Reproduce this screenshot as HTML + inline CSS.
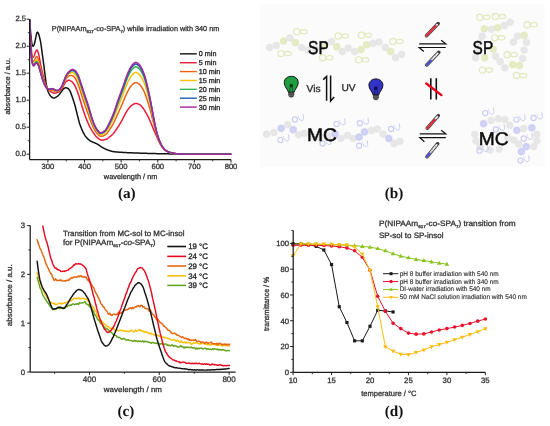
<!DOCTYPE html>
<html><head><meta charset="utf-8"><title>Figure</title>
<style>html,body{margin:0;padding:0;background:#fff;width:550px;height:426px;overflow:hidden}svg{display:block;text-rendering:geometricPrecision}</style>
</head><body>
<svg width="550" height="426" viewBox="0 0 550 426">
<defs><clipPath id="clipA"><rect x="29.6" y="19.3" width="202" height="140"/></clipPath><radialGradient id="gG"><stop offset="0" stop-color="#e9e9e9"/><stop offset="0.72" stop-color="#e5e5e5"/><stop offset="1" stop-color="#e5e5e5" stop-opacity="0.25"/></radialGradient><radialGradient id="gY"><stop offset="0" stop-color="#e7eecb"/><stop offset="0.72" stop-color="#e1eabd"/><stop offset="1" stop-color="#e1eabd" stop-opacity="0.25"/></radialGradient><radialGradient id="gL"><stop offset="0" stop-color="#d6d8f6"/><stop offset="0.72" stop-color="#caccf3"/><stop offset="1" stop-color="#caccf3" stop-opacity="0.25"/></radialGradient><clipPath id="clipC"><rect x="30.2" y="225.6" width="206" height="146.4"/></clipPath></defs>
<rect width="550" height="426" fill="#fff"/>
<g clip-path="url(#clipA)">
<polyline points="29.6,19.2 29.89,23.22 30.18,26.99 30.46,30.5 30.75,33.82 31.04,36.79 31.33,39.54 31.62,41.96 31.91,43.39 32.19,44.46 32.48,45.35 32.77,45.95 33.06,46.2 33.35,46.07 33.63,45.68 33.92,45.13 34.21,44.51 34.5,43.59 34.79,42.33 35.07,40.93 35.36,39.58 35.65,38.35 35.94,36.93 36.23,35.47 36.52,34.11 36.8,33 37.09,32.31 37.38,32.17 37.67,32.35 37.96,32.7 38.24,33.17 38.53,33.7 38.82,34.43 39.11,35.48 39.4,36.66 39.68,37.8 39.97,38.98 40.26,40.26 40.55,41.68 40.84,43.35 41.13,45.28 41.41,47.38 41.7,49.56 41.99,51.7 42.28,53.78 42.57,55.88 42.85,58 43.14,60.14 43.43,62.3 43.72,64.49 44.01,66.72 44.3,68.98 44.58,71.23 44.87,73.45 45.16,75.67 45.45,77.98 45.74,80.29 46.02,82.45 46.31,84.34 46.6,85.87 46.89,87.25 47.18,88.5 47.46,89.6 47.75,90.56 48.04,91.37 48.33,92.1 48.62,92.76 48.91,93.36 49.19,93.9 49.48,94.39 49.77,94.84 50.06,95.27 50.35,95.66 50.63,96.04 50.92,96.37 51.21,96.66 51.5,96.91 51.79,97.11 52.07,97.31 52.36,97.51 52.65,97.68 52.94,97.83 53.23,97.95 53.52,98.02 53.8,98.04 54.09,98.01 54.38,97.95 54.67,97.85 54.96,97.73 55.24,97.58 55.53,97.42 55.82,97.26 56.11,97.09 56.4,96.92 56.69,96.74 56.97,96.54 57.26,96.32 57.55,96.08 57.84,95.83 58.13,95.56 58.41,95.28 58.7,95 58.99,94.7 59.28,94.39 59.57,94.04 59.85,93.68 60.14,93.3 60.43,92.92 60.72,92.53 61.01,92.14 61.3,91.77 61.58,91.4 61.87,91.02 62.16,90.63 62.45,90.23 62.74,89.85 63.02,89.49 63.31,89.17 63.6,88.91 63.89,88.67 64.18,88.44 64.46,88.22 64.75,88.02 65.04,87.88 65.33,87.79 65.62,87.78 65.91,87.81 66.19,87.85 66.48,87.91 66.77,87.99 67.06,88.08 67.35,88.19 67.63,88.3 67.92,88.44 68.21,88.65 68.5,88.92 68.79,89.24 69.08,89.6 69.36,89.99 69.65,90.41 69.94,90.88 70.23,91.45 70.52,92.11 70.8,92.84 71.09,93.62 71.38,94.43 71.67,95.26 71.96,96.08 72.24,96.88 72.53,97.7 72.82,98.54 73.11,99.4 73.4,100.28 73.69,101.18 73.97,102.1 74.26,103.04 74.55,104.01 74.84,105 75.13,106.02 75.41,107.09 75.7,108.22 75.99,109.39 76.28,110.58 76.57,111.78 76.85,112.98 77.14,114.16 77.43,115.31 77.72,116.43 78.01,117.55 78.3,118.69 78.58,119.81 78.87,120.9 79.16,121.95 79.45,122.95 79.74,123.86 80.02,124.71 80.31,125.53 80.6,126.33 80.89,127.09 81.18,127.83 81.47,128.55 81.75,129.23 82.04,129.9 82.33,130.54 82.62,131.15 82.91,131.74 83.19,132.31 83.48,132.87 83.77,133.41 84.06,133.94 84.35,134.45 84.63,134.94 84.92,135.41 85.21,135.85 85.5,136.27 85.79,136.66 86.08,137.02 86.36,137.36 86.65,137.69 86.94,138.01 87.23,138.32 87.52,138.62 87.8,138.9 88.09,139.18 88.38,139.44 88.67,139.69 88.96,139.93 89.25,140.15 89.53,140.37 89.82,140.57 90.11,140.76 90.4,140.93 90.69,141.1 90.97,141.26 91.26,141.41 91.55,141.55 91.84,141.69 92.13,141.83 92.41,141.95 92.7,142.08 92.99,142.2 93.28,142.32 93.57,142.43 93.86,142.55 94.14,142.66 94.43,142.78 94.72,142.89 95.01,143.01 95.3,143.13 95.58,143.26 95.87,143.39 96.16,143.52 96.45,143.66 96.74,143.81 97.02,143.96 97.31,144.13 97.6,144.3 97.89,144.47 98.18,144.66 98.47,144.85 98.75,145.04 99.04,145.24 99.33,145.44 99.62,145.64 99.91,145.84 100.19,146.04 100.48,146.24 100.77,146.44 101.06,146.64 101.35,146.83 101.64,147.01 101.92,147.2 102.21,147.37 102.5,147.54 102.79,147.69 103.08,147.84 103.36,147.99 103.65,148.14 103.94,148.28 104.23,148.42 104.52,148.56 104.8,148.69 105.09,148.83 105.38,148.96 105.67,149.08 105.96,149.21 106.25,149.33 106.53,149.45 106.82,149.57 107.11,149.69 107.4,149.8 107.69,149.91 107.97,150.02 108.26,150.12 108.55,150.23 108.84,150.33 109.13,150.44 109.41,150.55 109.7,150.65 109.99,150.75 110.28,150.85 110.57,150.95 110.86,151.04 111.14,151.13 111.43,151.21 111.72,151.29 112.01,151.36 112.3,151.42 112.58,151.48 112.87,151.52 113.16,151.57 113.45,151.61 113.74,151.65 114.03,151.68 114.31,151.72 114.6,151.76 114.89,151.79 115.18,151.82 115.47,151.86 115.75,151.89 116.04,151.92 116.33,151.94 116.62,151.97 116.91,152 117.19,152.02 117.48,152.05 117.77,152.07 118.06,152.1 118.35,152.12 118.64,152.14 118.92,152.16 119.21,152.18 119.5,152.2 119.79,152.22 120.08,152.24 120.36,152.26 120.65,152.28 120.94,152.3 121.23,152.31 121.52,152.33 121.8,152.35 122.09,152.37 122.38,152.39 122.67,152.4 122.96,152.42 123.25,152.44 123.53,152.45 123.82,152.47 124.11,152.48 124.4,152.5 124.69,152.52 124.97,152.53 125.26,152.55 125.55,152.56 125.84,152.58 126.13,152.59 126.42,152.6 126.7,152.62 126.99,152.63 127.28,152.65 127.57,152.66 127.86,152.67 128.14,152.69 128.43,152.7 128.72,152.71 129.01,152.72 129.3,152.74 129.58,152.75 129.87,152.76 130.16,152.77 130.45,152.79 130.74,152.8 131.03,152.81 131.31,152.82 131.6,152.83 131.89,152.84 132.18,152.85 132.47,152.87 132.75,152.88 133.04,152.89 133.33,152.9 133.62,152.91 133.91,152.92 134.19,152.93 134.48,152.94 134.77,152.95 135.06,152.96 135.35,152.97 135.64,152.98 135.92,152.99 136.21,153 136.5,153.02 136.79,153.03 137.08,153.04 137.36,153.05 137.65,153.06 137.94,153.07 138.23,153.08 138.52,153.09 138.81,153.1 139.09,153.11 139.38,153.12 139.67,153.13 139.96,153.14 140.25,153.15 140.53,153.16 140.82,153.17 141.11,153.18 141.4,153.19 141.69,153.2 141.97,153.21 142.26,153.22 142.55,153.23 142.84,153.24 143.13,153.25 143.42,153.26 143.7,153.27 143.99,153.28 144.28,153.28 144.57,153.29 144.86,153.3 145.14,153.31 145.43,153.32 145.72,153.33 146.01,153.34 146.3,153.35 146.58,153.36 146.87,153.37 147.16,153.38 147.45,153.39 147.74,153.39 148.03,153.4 148.31,153.41 148.6,153.42 148.89,153.43 149.18,153.44 149.47,153.45 149.75,153.45 150.04,153.46 150.33,153.47 150.62,153.48 150.91,153.49 151.2,153.49 151.48,153.5 151.77,153.51 152.06,153.52 152.35,153.53 152.64,153.53 152.92,153.54 153.21,153.55 153.5,153.56 153.79,153.56 154.08,153.57 154.36,153.58 154.65,153.59 154.94,153.59 155.23,153.6 155.52,153.61 155.81,153.61 156.09,153.62 156.38,153.63 156.67,153.64 156.96,153.64 157.25,153.65 157.53,153.65 157.82,153.66 158.11,153.67 158.4,153.67 158.69,153.68 158.97,153.69 159.26,153.69 159.55,153.7 159.84,153.7 160.13,153.71 160.42,153.72 160.7,153.72 160.99,153.73 161.28,153.73 161.57,153.74 161.86,153.75 162.14,153.75 162.43,153.76 162.72,153.76 163.01,153.77 163.3,153.77 163.59,153.78 163.87,153.78 164.16,153.79 164.45,153.8 164.74,153.8 165.03,153.81 165.31,153.81 165.6,153.82 165.89,153.82 166.18,153.83 166.47,153.83 166.75,153.84 167.04,153.84 167.33,153.85 167.62,153.85 167.91,153.86 168.2,153.86 168.48,153.87 168.77,153.87 169.06,153.88 169.35,153.88 169.64,153.89 169.92,153.89 170.21,153.9 170.5,153.9 170.79,153.9 171.08,153.91 171.36,153.91 171.65,153.92 171.94,153.92 172.23,153.93 172.52,153.93 172.81,153.94 173.09,153.94 173.38,153.94 173.67,153.95 173.96,153.95 174.25,153.96 174.53,153.96 174.82,153.97 175.11,153.97 175.4,153.97 175.69,153.98 175.98,153.98 176.26,153.99 176.55,153.99 176.84,153.99 177.13,154 177.42,154 177.7,154.01 177.99,154.01 178.28,154.02 178.57,154.02 178.86,154.03 179.14,154.03 179.43,154.03 179.72,154.04 180.01,154.04 180.3,154.05 180.59,154.05 180.87,154.06 181.16,154.06 181.45,154.07 181.74,154.07 182.03,154.08 182.31,154.08 182.6,154.08 182.89,154.09 183.18,154.09 183.47,154.1 183.76,154.1 184.04,154.11 184.33,154.11 184.62,154.12 184.91,154.12 185.2,154.12 185.48,154.13 185.77,154.13 186.06,154.14 186.35,154.14 186.64,154.14 186.92,154.15 187.21,154.15 187.5,154.15 187.79,154.16 188.08,154.16 188.37,154.16 188.65,154.17 188.94,154.17 189.23,154.17 189.52,154.18 189.81,154.18 190.09,154.18 190.38,154.18 190.67,154.19 190.96,154.19 191.25,154.19 191.53,154.19 191.82,154.19 192.11,154.19 192.4,154.2 192.69,154.2 192.98,154.2 193.26,154.2 193.55,154.2 193.84,154.2 194.13,154.2 194.42,154.2 194.7,154.2 194.99,154.2 195.28,154.2 195.57,154.2 195.86,154.2 196.15,154.2 196.43,154.2 196.72,154.2 197.01,154.2 197.3,154.2 197.59,154.2 197.87,154.2 198.16,154.2 198.45,154.2 198.74,154.2 199.03,154.2 199.31,154.2 199.6,154.2 199.89,154.2 200.18,154.2 200.47,154.2 200.76,154.2 201.04,154.2 201.33,154.2 201.62,154.2 201.91,154.2 202.2,154.2 202.48,154.2 202.77,154.2 203.06,154.2 203.35,154.2 203.64,154.2 203.92,154.2 204.21,154.2 204.5,154.2 204.79,154.2 205.08,154.2 205.37,154.2 205.65,154.2 205.94,154.2 206.23,154.2 206.52,154.2 206.81,154.2 207.09,154.2 207.38,154.2 207.67,154.2 207.96,154.2 208.25,154.2 208.54,154.2 208.82,154.2 209.11,154.2 209.4,154.2 209.69,154.2 209.98,154.2 210.26,154.2 210.55,154.2 210.84,154.2 211.13,154.2 211.42,154.2 211.7,154.2 211.99,154.2 212.28,154.2 212.57,154.2 212.86,154.2 213.15,154.2 213.43,154.2 213.72,154.2 214.01,154.2 214.3,154.2 214.59,154.2 214.87,154.2 215.16,154.2 215.45,154.2 215.74,154.2 216.03,154.2 216.31,154.2 216.6,154.2 216.89,154.2 217.18,154.2 217.47,154.2 217.76,154.2 218.04,154.2 218.33,154.2 218.62,154.2 218.91,154.2 219.2,154.2 219.48,154.2 219.77,154.2 220.06,154.2 220.35,154.2 220.64,154.2 220.93,154.2 221.21,154.2 221.5,154.2 221.79,154.2 222.08,154.2 222.37,154.2 222.65,154.2 222.94,154.2 223.23,154.2 223.52,154.2 223.81,154.2 224.09,154.2 224.38,154.2 224.67,154.2 224.96,154.2 225.25,154.2 225.54,154.2 225.82,154.2 226.11,154.2 226.4,154.2 226.69,154.2 226.98,154.2 227.26,154.2 227.55,154.2 227.84,154.2 228.13,154.2 228.42,154.2 228.7,154.2 228.99,154.2 229.28,154.2 229.57,154.2 229.86,154.2 230.15,154.2 230.43,154.2 230.72,154.2 231.01,154.2" fill="none" stroke="#111111" stroke-width="1.5" stroke-linejoin="round" stroke-linecap="round" />
<polyline points="29.6,19.2 29.89,26.27 30.18,32.47 30.46,37.66 30.75,42.09 31.04,45.91 31.33,49.39 31.62,52.4 31.91,54.41 32.19,56.03 32.48,57.2 32.77,57.53 33.06,57.37 33.35,57.01 33.63,56.55 33.92,56.04 34.21,55.48 34.5,54.73 34.79,53.89 35.07,53.05 35.36,52.33 35.65,51.77 35.94,51.19 36.23,50.66 36.52,50.24 36.8,50 37.09,50.05 37.38,50.44 37.67,51.09 37.96,51.9 38.24,52.78 38.53,53.68 38.82,54.81 39.11,56.15 39.4,57.66 39.68,59.27 39.97,60.93 40.26,62.58 40.55,64.17 40.84,65.64 41.13,66.96 41.41,68.24 41.7,69.48 41.99,70.7 42.28,71.88 42.57,73.05 42.85,74.2 43.14,75.33 43.43,76.47 43.72,77.62 44.01,78.76 44.3,79.88 44.58,80.96 44.87,81.97 45.16,82.9 45.45,83.75 45.74,84.54 46.02,85.28 46.31,85.98 46.6,86.63 46.89,87.23 47.18,87.78 47.46,88.28 47.75,88.76 48.04,89.2 48.33,89.58 48.62,89.91 48.91,90.2 49.19,90.47 49.48,90.73 49.77,90.97 50.06,91.19 50.35,91.4 50.63,91.59 50.92,91.76 51.21,91.92 51.5,92.07 51.79,92.2 52.07,92.33 52.36,92.47 52.65,92.59 52.94,92.72 53.23,92.83 53.52,92.93 53.8,93.02 54.09,93.09 54.38,93.14 54.67,93.17 54.96,93.18 55.24,93.16 55.53,93.12 55.82,93.05 56.11,92.97 56.4,92.88 56.69,92.77 56.97,92.65 57.26,92.52 57.55,92.39 57.84,92.25 58.13,92.12 58.41,91.98 58.7,91.81 58.99,91.63 59.28,91.44 59.57,91.22 59.85,90.99 60.14,90.74 60.43,90.47 60.72,90.19 61.01,89.9 61.3,89.58 61.58,89.25 61.87,88.85 62.16,88.39 62.45,87.88 62.74,87.34 63.02,86.79 63.31,86.24 63.6,85.72 63.89,85.19 64.18,84.62 64.46,84.04 64.75,83.48 65.04,82.98 65.33,82.56 65.62,82.25 65.91,81.97 66.19,81.69 66.48,81.42 66.77,81.17 67.06,80.95 67.35,80.74 67.63,80.56 67.92,80.42 68.21,80.31 68.5,80.24 68.79,80.22 69.08,80.24 69.36,80.3 69.65,80.39 69.94,80.51 70.23,80.65 70.52,80.8 70.8,80.97 71.09,81.15 71.38,81.32 71.67,81.52 71.96,81.74 72.24,82 72.53,82.29 72.82,82.61 73.11,82.95 73.4,83.31 73.69,83.69 73.97,84.09 74.26,84.53 74.55,85.03 74.84,85.57 75.13,86.15 75.41,86.77 75.7,87.43 75.99,88.11 76.28,88.82 76.57,89.55 76.85,90.3 77.14,91.06 77.43,91.82 77.72,92.59 78.01,93.37 78.3,94.17 78.58,95.02 78.87,95.9 79.16,96.82 79.45,97.76 79.74,98.72 80.02,99.7 80.31,100.68 80.6,101.66 80.89,102.64 81.18,103.6 81.47,104.55 81.75,105.47 82.04,106.37 82.33,107.26 82.62,108.15 82.91,109.04 83.19,109.93 83.48,110.82 83.77,111.7 84.06,112.57 84.35,113.43 84.63,114.27 84.92,115.1 85.21,115.92 85.5,116.71 85.79,117.48 86.08,118.23 86.36,118.96 86.65,119.69 86.94,120.4 87.23,121.11 87.52,121.8 87.8,122.48 88.09,123.15 88.38,123.8 88.67,124.44 88.96,125.06 89.25,125.66 89.53,126.25 89.82,126.81 90.11,127.36 90.4,127.9 90.69,128.42 90.97,128.93 91.26,129.42 91.55,129.91 91.84,130.38 92.13,130.85 92.41,131.3 92.7,131.74 92.99,132.18 93.28,132.6 93.57,133.01 93.86,133.41 94.14,133.81 94.43,134.2 94.72,134.59 95.01,134.98 95.3,135.37 95.58,135.74 95.87,136.11 96.16,136.46 96.45,136.8 96.74,137.11 97.02,137.41 97.31,137.67 97.6,137.91 97.89,138.13 98.18,138.35 98.47,138.57 98.75,138.78 99.04,138.99 99.33,139.19 99.62,139.38 99.91,139.56 100.19,139.72 100.48,139.86 100.77,139.98 101.06,140.07 101.35,140.13 101.64,140.16 101.92,140.16 102.21,140.15 102.5,140.12 102.79,140.09 103.08,140.05 103.36,140 103.65,139.94 103.94,139.88 104.23,139.8 104.52,139.73 104.8,139.64 105.09,139.56 105.38,139.46 105.67,139.37 105.96,139.27 106.25,139.17 106.53,139.07 106.82,138.95 107.11,138.8 107.4,138.62 107.69,138.43 107.97,138.21 108.26,137.99 108.55,137.75 108.84,137.5 109.13,137.25 109.41,137 109.7,136.76 109.99,136.52 110.28,136.29 110.57,136.06 110.86,135.84 111.14,135.61 111.43,135.38 111.72,135.15 112.01,134.9 112.3,134.64 112.58,134.36 112.87,134.07 113.16,133.76 113.45,133.43 113.74,133.08 114.03,132.72 114.31,132.35 114.6,131.96 114.89,131.57 115.18,131.16 115.47,130.75 115.75,130.33 116.04,129.9 116.33,129.47 116.62,129.04 116.91,128.61 117.19,128.18 117.48,127.75 117.77,127.32 118.06,126.88 118.35,126.44 118.64,125.99 118.92,125.53 119.21,125.07 119.5,124.6 119.79,124.13 120.08,123.64 120.36,123.16 120.65,122.67 120.94,122.17 121.23,121.66 121.52,121.14 121.8,120.6 122.09,120.05 122.38,119.48 122.67,118.91 122.96,118.34 123.25,117.76 123.53,117.19 123.82,116.63 124.11,116.07 124.4,115.53 124.69,115 124.97,114.49 125.26,113.98 125.55,113.48 125.84,112.97 126.13,112.46 126.42,111.97 126.7,111.48 126.99,111.01 127.28,110.55 127.57,110.1 127.86,109.68 128.14,109.27 128.43,108.89 128.72,108.53 129.01,108.17 129.3,107.82 129.58,107.47 129.87,107.14 130.16,106.81 130.45,106.5 130.74,106.21 131.03,105.93 131.31,105.67 131.6,105.44 131.89,105.22 132.18,105.03 132.47,104.85 132.75,104.67 133.04,104.49 133.33,104.32 133.62,104.15 133.91,104 134.19,103.86 134.48,103.73 134.77,103.62 135.06,103.54 135.35,103.48 135.64,103.45 135.92,103.44 136.21,103.46 136.5,103.49 136.79,103.54 137.08,103.61 137.36,103.69 137.65,103.78 137.94,103.88 138.23,103.99 138.52,104.1 138.81,104.23 139.09,104.35 139.38,104.48 139.67,104.63 139.96,104.81 140.25,105.02 140.53,105.27 140.82,105.54 141.11,105.84 141.4,106.16 141.69,106.5 141.97,106.85 142.26,107.21 142.55,107.57 142.84,107.94 143.13,108.31 143.42,108.68 143.7,109.08 143.99,109.5 144.28,109.93 144.57,110.39 144.86,110.86 145.14,111.34 145.43,111.83 145.72,112.33 146.01,112.84 146.3,113.36 146.58,113.88 146.87,114.4 147.16,114.94 147.45,115.49 147.74,116.05 148.03,116.62 148.31,117.2 148.6,117.8 148.89,118.4 149.18,119.01 149.47,119.63 149.75,120.26 150.04,120.9 150.33,121.54 150.62,122.19 150.91,122.87 151.2,123.57 151.48,124.28 151.77,125 152.06,125.73 152.35,126.47 152.64,127.2 152.92,127.92 153.21,128.63 153.5,129.33 153.79,130.01 154.08,130.66 154.36,131.31 154.65,131.94 154.94,132.56 155.23,133.19 155.52,133.82 155.81,134.46 156.09,135.11 156.38,135.79 156.67,136.47 156.96,137.17 157.25,137.86 157.53,138.55 157.82,139.22 158.11,139.87 158.4,140.49 158.69,141.08 158.97,141.66 159.26,142.24 159.55,142.82 159.84,143.38 160.13,143.92 160.42,144.45 160.7,144.96 160.99,145.44 161.28,145.9 161.57,146.33 161.86,146.72 162.14,147.09 162.43,147.45 162.72,147.8 163.01,148.14 163.3,148.47 163.59,148.78 163.87,149.08 164.16,149.36 164.45,149.63 164.74,149.88 165.03,150.11 165.31,150.32 165.6,150.51 165.89,150.7 166.18,150.88 166.47,151.06 166.75,151.23 167.04,151.39 167.33,151.55 167.62,151.7 167.91,151.84 168.2,151.98 168.48,152.11 168.77,152.24 169.06,152.36 169.35,152.47 169.64,152.57 169.92,152.66 170.21,152.75 170.5,152.83 170.79,152.9 171.08,152.97 171.36,153.03 171.65,153.1 171.94,153.16 172.23,153.22 172.52,153.27 172.81,153.33 173.09,153.38 173.38,153.43 173.67,153.47 173.96,153.52 174.25,153.56 174.53,153.6 174.82,153.63 175.11,153.67 175.4,153.7 175.69,153.73 175.98,153.76 176.26,153.78 176.55,153.81 176.84,153.84 177.13,153.86 177.42,153.89 177.7,153.91 177.99,153.93 178.28,153.96 178.57,153.98 178.86,154 179.14,154.02 179.43,154.04 179.72,154.06 180.01,154.08 180.3,154.1 180.59,154.12 180.87,154.13 181.16,154.15 181.45,154.16 181.74,154.17 182.03,154.18 182.31,154.19 182.6,154.19 182.89,154.2 183.18,154.2 183.47,154.2 183.76,154.2 184.04,154.2 184.33,154.2 184.62,154.2 184.91,154.2 185.2,154.2 185.48,154.2 185.77,154.2 186.06,154.2 186.35,154.2 186.64,154.2 186.92,154.2 187.21,154.2 187.5,154.2 187.79,154.2 188.08,154.2 188.37,154.2 188.65,154.2 188.94,154.2 189.23,154.2 189.52,154.2 189.81,154.2 190.09,154.2 190.38,154.2 190.67,154.2 190.96,154.2 191.25,154.2 191.53,154.2 191.82,154.2 192.11,154.2 192.4,154.2 192.69,154.2 192.98,154.2 193.26,154.2 193.55,154.2 193.84,154.2 194.13,154.2 194.42,154.2 194.7,154.2 194.99,154.2 195.28,154.2 195.57,154.2 195.86,154.2 196.15,154.2 196.43,154.2 196.72,154.2 197.01,154.2 197.3,154.2 197.59,154.2 197.87,154.2 198.16,154.2 198.45,154.2 198.74,154.2 199.03,154.2 199.31,154.2 199.6,154.2 199.89,154.2 200.18,154.2 200.47,154.2 200.76,154.2 201.04,154.2 201.33,154.2 201.62,154.2 201.91,154.2 202.2,154.2 202.48,154.2 202.77,154.2 203.06,154.2 203.35,154.2 203.64,154.2 203.92,154.2 204.21,154.2 204.5,154.2 204.79,154.2 205.08,154.2 205.37,154.2 205.65,154.2 205.94,154.2 206.23,154.2 206.52,154.2 206.81,154.2 207.09,154.2 207.38,154.2 207.67,154.2 207.96,154.2 208.25,154.2 208.54,154.2 208.82,154.2 209.11,154.2 209.4,154.2 209.69,154.2 209.98,154.2 210.26,154.2 210.55,154.2 210.84,154.2 211.13,154.2 211.42,154.2 211.7,154.2 211.99,154.2 212.28,154.2 212.57,154.2 212.86,154.2 213.15,154.2 213.43,154.2 213.72,154.2 214.01,154.2 214.3,154.2 214.59,154.2 214.87,154.2 215.16,154.2 215.45,154.2 215.74,154.2 216.03,154.2 216.31,154.2 216.6,154.2 216.89,154.2 217.18,154.2 217.47,154.2 217.76,154.2 218.04,154.2 218.33,154.2 218.62,154.2 218.91,154.2 219.2,154.2 219.48,154.2 219.77,154.2 220.06,154.2 220.35,154.2 220.64,154.2 220.93,154.2 221.21,154.2 221.5,154.2 221.79,154.2 222.08,154.2 222.37,154.2 222.65,154.2 222.94,154.2 223.23,154.2 223.52,154.2 223.81,154.2 224.09,154.2 224.38,154.2 224.67,154.2 224.96,154.2 225.25,154.2 225.54,154.2 225.82,154.2 226.11,154.2 226.4,154.2 226.69,154.2 226.98,154.2 227.26,154.2 227.55,154.2 227.84,154.2 228.13,154.2 228.42,154.2 228.7,154.2 228.99,154.2 229.28,154.2 229.57,154.2 229.86,154.2 230.15,154.2 230.43,154.2 230.72,154.2 231.01,154.2" fill="none" stroke="#ea1c3a" stroke-width="1.5" stroke-linejoin="round" stroke-linecap="round" />
<polyline points="29.6,19.2 29.89,27.36 30.18,34.37 30.46,40.01 30.75,44.64 31.04,48.63 31.33,52.34 31.62,55.59 31.91,57.73 32.19,59.37 32.48,60.59 32.77,61.16 33.06,61.38 33.35,61.44 33.63,61.29 33.92,60.98 34.21,60.56 34.5,59.98 34.79,59.35 35.07,58.76 35.36,58.24 35.65,57.78 35.94,57.33 36.23,56.94 36.52,56.68 36.8,56.6 37.09,56.75 37.38,57.13 37.67,57.65 37.96,58.31 38.24,59.09 38.53,59.94 38.82,60.94 39.11,62.04 39.4,63.24 39.68,64.54 39.97,65.89 40.26,67.25 40.55,68.58 40.84,69.82 41.13,70.97 41.41,72.1 41.7,73.21 41.99,74.29 42.28,75.36 42.57,76.39 42.85,77.39 43.14,78.35 43.43,79.29 43.72,80.22 44.01,81.14 44.3,82.03 44.58,82.88 44.87,83.67 45.16,84.4 45.45,85.05 45.74,85.68 46.02,86.28 46.31,86.85 46.6,87.37 46.89,87.84 47.18,88.24 47.46,88.56 47.75,88.83 48.04,89.08 48.33,89.29 48.62,89.48 48.91,89.64 49.19,89.78 49.48,89.92 49.77,90.04 50.06,90.13 50.35,90.21 50.63,90.27 50.92,90.31 51.21,90.34 51.5,90.37 51.79,90.4 52.07,90.44 52.36,90.5 52.65,90.58 52.94,90.68 53.23,90.79 53.52,90.91 53.8,91.02 54.09,91.13 54.38,91.22 54.67,91.3 54.96,91.38 55.24,91.45 55.53,91.52 55.82,91.57 56.11,91.6 56.4,91.61 56.69,91.6 56.97,91.55 57.26,91.47 57.55,91.37 57.84,91.24 58.13,91.1 58.41,90.95 58.7,90.78 58.99,90.59 59.28,90.4 59.57,90.18 59.85,89.92 60.14,89.64 60.43,89.33 60.72,88.99 61.01,88.63 61.3,88.25 61.58,87.85 61.87,87.39 62.16,86.87 62.45,86.29 62.74,85.69 63.02,85.07 63.31,84.44 63.6,83.82 63.89,83.19 64.18,82.51 64.46,81.81 64.75,81.12 65.04,80.47 65.33,79.91 65.62,79.44 65.91,79.01 66.19,78.59 66.48,78.2 66.77,77.82 67.06,77.47 67.35,77.15 67.63,76.86 67.92,76.6 68.21,76.37 68.5,76.16 68.79,75.99 69.08,75.85 69.36,75.75 69.65,75.67 69.94,75.61 70.23,75.56 70.52,75.52 70.8,75.49 71.09,75.47 71.38,75.46 71.67,75.48 71.96,75.54 72.24,75.63 72.53,75.77 72.82,75.94 73.11,76.14 73.4,76.36 73.69,76.61 73.97,76.88 74.26,77.18 74.55,77.51 74.84,77.87 75.13,78.26 75.41,78.69 75.7,79.17 75.99,79.68 76.28,80.24 76.57,80.82 76.85,81.44 77.14,82.07 77.43,82.71 77.72,83.37 78.01,84.03 78.3,84.74 78.58,85.52 78.87,86.34 79.16,87.2 79.45,88.09 79.74,89 80.02,89.92 80.31,90.85 80.6,91.76 80.89,92.67 81.18,93.59 81.47,94.51 81.75,95.43 82.04,96.33 82.33,97.24 82.62,98.14 82.91,99.05 83.19,99.95 83.48,100.84 83.77,101.72 84.06,102.59 84.35,103.45 84.63,104.29 84.92,105.12 85.21,105.94 85.5,106.75 85.79,107.55 86.08,108.34 86.36,109.12 86.65,109.91 86.94,110.69 87.23,111.48 87.52,112.27 87.8,113.07 88.09,113.87 88.38,114.68 88.67,115.5 88.96,116.32 89.25,117.13 89.53,117.94 89.82,118.74 90.11,119.53 90.4,120.3 90.69,121.05 90.97,121.79 91.26,122.5 91.55,123.21 91.84,123.91 92.13,124.6 92.41,125.29 92.7,125.95 92.99,126.6 93.28,127.23 93.57,127.82 93.86,128.39 94.14,128.92 94.43,129.44 94.72,129.94 95.01,130.43 95.3,130.91 95.58,131.37 95.87,131.81 96.16,132.23 96.45,132.63 96.74,133.01 97.02,133.36 97.31,133.69 97.6,134.02 97.89,134.34 98.18,134.66 98.47,134.97 98.75,135.26 99.04,135.53 99.33,135.77 99.62,135.97 99.91,136.13 100.19,136.25 100.48,136.31 100.77,136.35 101.06,136.36 101.35,136.35 101.64,136.32 101.92,136.26 102.21,136.19 102.5,136.11 102.79,136.03 103.08,135.94 103.36,135.83 103.65,135.7 103.94,135.55 104.23,135.39 104.52,135.21 104.8,135.03 105.09,134.83 105.38,134.63 105.67,134.41 105.96,134.16 106.25,133.9 106.53,133.62 106.82,133.31 107.11,132.98 107.4,132.62 107.69,132.26 107.97,131.88 108.26,131.49 108.55,131.1 108.84,130.69 109.13,130.27 109.41,129.85 109.7,129.41 109.99,128.98 110.28,128.55 110.57,128.11 110.86,127.67 111.14,127.23 111.43,126.79 111.72,126.34 112.01,125.88 112.3,125.41 112.58,124.92 112.87,124.42 113.16,123.91 113.45,123.37 113.74,122.83 114.03,122.26 114.31,121.67 114.6,121.07 114.89,120.45 115.18,119.81 115.47,119.17 115.75,118.52 116.04,117.86 116.33,117.2 116.62,116.55 116.91,115.89 117.19,115.25 117.48,114.61 117.77,113.98 118.06,113.35 118.35,112.71 118.64,112.08 118.92,111.44 119.21,110.8 119.5,110.16 119.79,109.52 120.08,108.88 120.36,108.24 120.65,107.59 120.94,106.94 121.23,106.29 121.52,105.64 121.8,104.98 122.09,104.32 122.38,103.65 122.67,102.98 122.96,102.3 123.25,101.61 123.53,100.91 123.82,100.21 124.11,99.5 124.4,98.79 124.69,98.09 124.97,97.39 125.26,96.71 125.55,96.03 125.84,95.37 126.13,94.72 126.42,94.08 126.7,93.45 126.99,92.83 127.28,92.22 127.57,91.63 127.86,91.07 128.14,90.53 128.43,90.02 128.72,89.53 129.01,89.05 129.3,88.57 129.58,88.1 129.87,87.64 130.16,87.2 130.45,86.77 130.74,86.37 131.03,85.99 131.31,85.63 131.6,85.31 131.89,85.02 132.18,84.77 132.47,84.52 132.75,84.28 133.04,84.04 133.33,83.81 133.62,83.58 133.91,83.38 134.19,83.19 134.48,83.02 134.77,82.88 135.06,82.76 135.35,82.68 135.64,82.64 135.92,82.64 136.21,82.67 136.5,82.73 136.79,82.81 137.08,82.92 137.36,83.05 137.65,83.19 137.94,83.35 138.23,83.52 138.52,83.7 138.81,83.87 139.09,84.08 139.38,84.3 139.67,84.56 139.96,84.85 140.25,85.18 140.53,85.54 140.82,85.92 141.11,86.33 141.4,86.75 141.69,87.18 141.97,87.63 142.26,88.1 142.55,88.59 142.84,89.1 143.13,89.62 143.42,90.17 143.7,90.74 143.99,91.34 144.28,91.96 144.57,92.6 144.86,93.28 145.14,94 145.43,94.76 145.72,95.56 146.01,96.37 146.3,97.21 146.58,98.05 146.87,98.9 147.16,99.76 147.45,100.64 147.74,101.55 148.03,102.47 148.31,103.41 148.6,104.37 148.89,105.34 149.18,106.33 149.47,107.33 149.75,108.36 150.04,109.41 150.33,110.48 150.62,111.57 150.91,112.67 151.2,113.79 151.48,114.92 151.77,116.05 152.06,117.2 152.35,118.37 152.64,119.53 152.92,120.69 153.21,121.83 153.5,122.96 153.79,124.05 154.08,125.13 154.36,126.21 154.65,127.27 154.94,128.32 155.23,129.35 155.52,130.35 155.81,131.31 156.09,132.25 156.38,133.17 156.67,134.09 156.96,134.99 157.25,135.87 157.53,136.72 157.82,137.55 158.11,138.33 158.4,139.08 158.69,139.78 158.97,140.47 159.26,141.14 159.55,141.8 159.84,142.44 160.13,143.06 160.42,143.65 160.7,144.22 160.99,144.76 161.28,145.27 161.57,145.74 161.86,146.18 162.14,146.6 162.43,147 162.72,147.4 163.01,147.78 163.3,148.15 163.59,148.5 163.87,148.83 164.16,149.14 164.45,149.44 164.74,149.71 165.03,149.96 165.31,150.18 165.6,150.38 165.89,150.57 166.18,150.75 166.47,150.93 166.75,151.1 167.04,151.26 167.33,151.42 167.62,151.57 167.91,151.71 168.2,151.85 168.48,151.97 168.77,152.1 169.06,152.21 169.35,152.32 169.64,152.42 169.92,152.52 170.21,152.61 170.5,152.69 170.79,152.77 171.08,152.84 171.36,152.91 171.65,152.98 171.94,153.05 172.23,153.11 172.52,153.17 172.81,153.23 173.09,153.28 173.38,153.34 173.67,153.39 173.96,153.43 174.25,153.48 174.53,153.52 174.82,153.56 175.11,153.59 175.4,153.62 175.69,153.66 175.98,153.69 176.26,153.71 176.55,153.74 176.84,153.77 177.13,153.8 177.42,153.82 177.7,153.85 177.99,153.88 178.28,153.9 178.57,153.92 178.86,153.95 179.14,153.97 179.43,153.99 179.72,154.01 180.01,154.02 180.3,154.04 180.59,154.06 180.87,154.07 181.16,154.08 181.45,154.1 181.74,154.11 182.03,154.11 182.31,154.12 182.6,154.13 182.89,154.14 183.18,154.14 183.47,154.15 183.76,154.15 184.04,154.15 184.33,154.16 184.62,154.16 184.91,154.16 185.2,154.17 185.48,154.17 185.77,154.17 186.06,154.18 186.35,154.18 186.64,154.18 186.92,154.18 187.21,154.19 187.5,154.19 187.79,154.19 188.08,154.19 188.37,154.19 188.65,154.19 188.94,154.2 189.23,154.2 189.52,154.2 189.81,154.2 190.09,154.2 190.38,154.2 190.67,154.2 190.96,154.2 191.25,154.2 191.53,154.2 191.82,154.2 192.11,154.2 192.4,154.2 192.69,154.2 192.98,154.2 193.26,154.2 193.55,154.2 193.84,154.2 194.13,154.2 194.42,154.2 194.7,154.2 194.99,154.2 195.28,154.2 195.57,154.2 195.86,154.2 196.15,154.2 196.43,154.2 196.72,154.2 197.01,154.2 197.3,154.2 197.59,154.2 197.87,154.2 198.16,154.2 198.45,154.2 198.74,154.2 199.03,154.2 199.31,154.2 199.6,154.2 199.89,154.2 200.18,154.2 200.47,154.2 200.76,154.2 201.04,154.2 201.33,154.2 201.62,154.2 201.91,154.2 202.2,154.2 202.48,154.2 202.77,154.2 203.06,154.2 203.35,154.2 203.64,154.2 203.92,154.2 204.21,154.2 204.5,154.2 204.79,154.2 205.08,154.2 205.37,154.2 205.65,154.2 205.94,154.2 206.23,154.2 206.52,154.2 206.81,154.2 207.09,154.2 207.38,154.2 207.67,154.2 207.96,154.2 208.25,154.2 208.54,154.2 208.82,154.2 209.11,154.2 209.4,154.2 209.69,154.2 209.98,154.2 210.26,154.2 210.55,154.2 210.84,154.2 211.13,154.2 211.42,154.2 211.7,154.2 211.99,154.2 212.28,154.2 212.57,154.2 212.86,154.2 213.15,154.2 213.43,154.2 213.72,154.2 214.01,154.2 214.3,154.2 214.59,154.2 214.87,154.2 215.16,154.2 215.45,154.2 215.74,154.2 216.03,154.2 216.31,154.2 216.6,154.2 216.89,154.2 217.18,154.2 217.47,154.2 217.76,154.2 218.04,154.2 218.33,154.2 218.62,154.2 218.91,154.2 219.2,154.2 219.48,154.2 219.77,154.2 220.06,154.2 220.35,154.2 220.64,154.2 220.93,154.2 221.21,154.2 221.5,154.2 221.79,154.2 222.08,154.2 222.37,154.2 222.65,154.2 222.94,154.2 223.23,154.2 223.52,154.2 223.81,154.2 224.09,154.2 224.38,154.2 224.67,154.2 224.96,154.2 225.25,154.2 225.54,154.2 225.82,154.2 226.11,154.2 226.4,154.2 226.69,154.2 226.98,154.2 227.26,154.2 227.55,154.2 227.84,154.2 228.13,154.2 228.42,154.2 228.7,154.2 228.99,154.2 229.28,154.2 229.57,154.2 229.86,154.2 230.15,154.2 230.43,154.2 230.72,154.2 231.01,154.2" fill="none" stroke="#ec610f" stroke-width="1.5" stroke-linejoin="round" stroke-linecap="round" />
<polyline points="29.6,19.2 29.89,27.88 30.18,35.3 30.46,41.15 30.75,45.88 31.04,49.95 31.33,53.78 31.62,57.13 31.91,59.34 32.19,60.99 32.48,62.23 32.77,62.92 33.06,63.33 33.35,63.58 33.63,63.6 33.92,63.38 34.21,63.02 34.5,62.53 34.79,62 35.07,61.53 35.36,61.11 35.65,60.7 35.94,60.31 36.23,59.99 36.52,59.8 36.8,59.8 37.09,60 37.38,60.37 37.67,60.84 37.96,61.43 38.24,62.16 38.53,62.98 38.82,63.91 39.11,64.9 39.4,65.95 39.68,67.1 39.97,68.3 40.26,69.52 40.55,70.71 40.84,71.85 41.13,72.91 41.41,73.97 41.7,75.01 41.99,76.04 42.28,77.04 42.57,78.01 42.85,78.94 43.14,79.81 43.43,80.66 43.72,81.49 44.01,82.3 44.3,83.07 44.58,83.81 44.87,84.5 45.16,85.12 45.45,85.69 45.74,86.23 46.02,86.76 46.31,87.27 46.6,87.73 46.89,88.13 47.18,88.46 47.46,88.7 47.75,88.87 48.04,89.02 48.33,89.15 48.62,89.27 48.91,89.36 49.19,89.45 49.48,89.52 49.77,89.58 50.06,89.62 50.35,89.63 50.63,89.62 50.92,89.6 51.21,89.57 51.5,89.54 51.79,89.52 52.07,89.52 52.36,89.55 52.65,89.61 52.94,89.69 53.23,89.8 53.52,89.92 53.8,90.05 54.09,90.17 54.38,90.29 54.67,90.39 54.96,90.5 55.24,90.62 55.53,90.74 55.82,90.85 56.11,90.94 56.4,91 56.69,91.03 56.97,91.01 57.26,90.96 57.55,90.87 57.84,90.75 58.13,90.61 58.41,90.45 58.7,90.28 58.99,90.09 59.28,89.89 59.57,89.67 59.85,89.41 60.14,89.1 60.43,88.77 60.72,88.4 61.01,88.01 61.3,87.61 61.58,87.18 61.87,86.68 62.16,86.13 62.45,85.53 62.74,84.89 63.02,84.23 63.31,83.56 63.6,82.9 63.89,82.23 64.18,81.49 64.46,80.73 64.75,79.98 65.04,79.26 65.33,78.62 65.62,78.08 65.91,77.57 66.19,77.09 66.48,76.63 66.77,76.2 67.06,75.79 67.35,75.41 67.63,75.07 67.92,74.75 68.21,74.46 68.5,74.18 68.79,73.94 69.08,73.72 69.36,73.54 69.65,73.38 69.94,73.24 70.23,73.09 70.52,72.96 70.8,72.83 71.09,72.72 71.38,72.62 71.67,72.55 71.96,72.52 72.24,72.54 72.53,72.6 72.82,72.7 73.11,72.83 73.4,73 73.69,73.18 73.97,73.39 74.26,73.62 74.55,73.87 74.84,74.14 75.13,74.43 75.41,74.77 75.7,75.16 75.99,75.6 76.28,76.07 76.57,76.59 76.85,77.14 77.14,77.71 77.43,78.29 77.72,78.89 78.01,79.5 78.3,80.17 78.58,80.9 78.87,81.7 79.16,82.53 79.45,83.4 79.74,84.29 80.02,85.18 80.31,86.07 80.6,86.95 80.89,87.84 81.18,88.74 81.47,89.64 81.75,90.55 82.04,91.46 82.33,92.37 82.62,93.29 82.91,94.2 83.19,95.1 83.48,96 83.77,96.88 84.06,97.75 84.35,98.6 84.63,99.44 84.92,100.28 85.21,101.1 85.5,101.92 85.79,102.73 86.08,103.54 86.36,104.35 86.65,105.16 86.94,105.98 87.23,106.81 87.52,107.65 87.8,108.5 88.09,109.37 88.38,110.25 88.67,111.16 88.96,112.07 89.25,112.99 89.53,113.91 89.82,114.83 90.11,115.73 90.4,116.62 90.69,117.48 90.97,118.32 91.26,119.14 91.55,119.96 91.84,120.77 92.13,121.58 92.41,122.37 92.7,123.15 92.99,123.9 93.28,124.62 93.57,125.3 93.86,125.95 94.14,126.55 94.43,127.12 94.72,127.68 95.01,128.23 95.3,128.75 95.58,129.25 95.87,129.73 96.16,130.18 96.45,130.61 96.74,131.02 97.02,131.39 97.31,131.76 97.6,132.14 97.89,132.51 98.18,132.87 98.47,133.22 98.75,133.55 99.04,133.84 99.33,134.1 99.62,134.31 99.91,134.47 100.19,134.56 100.48,134.59 100.77,134.59 101.06,134.57 101.35,134.52 101.64,134.45 101.92,134.37 102.21,134.27 102.5,134.17 102.79,134.06 103.08,133.94 103.36,133.8 103.65,133.64 103.94,133.45 104.23,133.25 104.52,133.02 104.8,132.79 105.09,132.54 105.38,132.28 105.67,132 105.96,131.69 106.25,131.34 106.53,130.97 106.82,130.57 107.11,130.15 107.4,129.71 107.69,129.26 107.97,128.8 108.26,128.34 108.55,127.87 108.84,127.38 109.13,126.88 109.41,126.37 109.7,125.85 109.99,125.32 110.28,124.79 110.57,124.25 110.86,123.71 111.14,123.17 111.43,122.62 111.72,122.06 112.01,121.5 112.3,120.93 112.58,120.34 112.87,119.74 113.16,119.13 113.45,118.5 113.74,117.85 114.03,117.18 114.31,116.49 114.6,115.78 114.89,115.05 115.18,114.31 115.47,113.55 115.75,112.79 116.04,112.02 116.33,111.25 116.62,110.48 116.91,109.72 117.19,108.97 117.48,108.24 117.77,107.51 118.06,106.78 118.35,106.05 118.64,105.33 118.92,104.61 119.21,103.88 119.5,103.16 119.79,102.44 120.08,101.72 120.36,101 120.65,100.27 120.94,99.55 121.23,98.83 121.52,98.12 121.8,97.4 122.09,96.69 122.38,95.97 122.67,95.25 122.96,94.52 123.25,93.77 123.53,93.02 123.82,92.24 124.11,91.46 124.4,90.67 124.69,89.88 124.97,89.1 125.26,88.32 125.55,87.57 125.84,86.83 126.13,86.11 126.42,85.4 126.7,84.7 126.99,84 127.28,83.33 127.57,82.67 127.86,82.04 128.14,81.43 128.43,80.86 128.72,80.32 129.01,79.77 129.3,79.23 129.58,78.7 129.87,78.18 130.16,77.68 130.45,77.2 130.74,76.74 131.03,76.31 131.31,75.91 131.6,75.54 131.89,75.22 132.18,74.93 132.47,74.66 132.75,74.39 133.04,74.12 133.33,73.85 133.62,73.6 133.91,73.37 134.19,73.16 134.48,72.97 134.77,72.81 135.06,72.68 135.35,72.59 135.64,72.54 135.92,72.54 136.21,72.58 136.5,72.65 136.79,72.75 137.08,72.88 137.36,73.04 137.65,73.21 137.94,73.39 138.23,73.59 138.52,73.79 138.81,74 139.09,74.24 139.38,74.51 139.67,74.82 139.96,75.17 140.25,75.56 140.53,75.97 140.82,76.4 141.11,76.86 141.4,77.33 141.69,77.81 141.97,78.3 142.26,78.83 142.55,79.38 142.84,79.96 143.13,80.56 143.42,81.19 143.7,81.84 143.99,82.52 144.28,83.23 144.57,83.97 144.86,84.75 145.14,85.59 145.43,86.48 145.72,87.42 146.01,88.39 146.3,89.37 146.58,90.37 146.87,91.37 147.16,92.39 147.45,93.44 147.74,94.51 148.03,95.6 148.31,96.72 148.6,97.85 148.89,99 149.18,100.17 149.47,101.36 149.75,102.59 150.04,103.84 150.33,105.12 150.62,106.41 150.91,107.73 151.2,109.05 151.48,110.38 151.77,111.71 152.06,113.07 152.35,114.44 152.64,115.81 152.92,117.18 153.21,118.54 153.5,119.87 153.79,121.16 154.08,122.45 154.36,123.74 154.65,125.01 154.94,126.26 155.23,127.48 155.52,128.66 155.81,129.79 156.09,130.86 156.38,131.9 156.67,132.93 156.96,133.93 157.25,134.9 157.53,135.84 157.82,136.74 158.11,137.59 158.4,138.39 158.69,139.15 158.97,139.89 159.26,140.61 159.55,141.31 159.84,141.99 160.13,142.64 160.42,143.27 160.7,143.86 160.99,144.43 161.28,144.96 161.57,145.46 161.86,145.92 162.14,146.36 162.43,146.79 162.72,147.2 163.01,147.61 163.3,147.99 163.59,148.36 163.87,148.71 164.16,149.04 164.45,149.34 164.74,149.63 165.03,149.88 165.31,150.11 165.6,150.31 165.89,150.51 166.18,150.69 166.47,150.87 166.75,151.04 167.04,151.2 167.33,151.36 167.62,151.5 167.91,151.64 168.2,151.78 168.48,151.91 168.77,152.03 169.06,152.14 169.35,152.25 169.64,152.35 169.92,152.45 170.21,152.54 170.5,152.62 170.79,152.7 171.08,152.78 171.36,152.85 171.65,152.92 171.94,152.99 172.23,153.06 172.52,153.12 172.81,153.18 173.09,153.24 173.38,153.29 173.67,153.34 173.96,153.39 174.25,153.44 174.53,153.48 174.82,153.52 175.11,153.55 175.4,153.59 175.69,153.62 175.98,153.65 176.26,153.68 176.55,153.71 176.84,153.74 177.13,153.77 177.42,153.79 177.7,153.82 177.99,153.85 178.28,153.87 178.57,153.9 178.86,153.92 179.14,153.94 179.43,153.96 179.72,153.98 180.01,154 180.3,154.01 180.59,154.03 180.87,154.04 181.16,154.05 181.45,154.06 181.74,154.07 182.03,154.08 182.31,154.09 182.6,154.1 182.89,154.11 183.18,154.11 183.47,154.12 183.76,154.12 184.04,154.13 184.33,154.14 184.62,154.14 184.91,154.15 185.2,154.15 185.48,154.15 185.77,154.16 186.06,154.16 186.35,154.17 186.64,154.17 186.92,154.18 187.21,154.18 187.5,154.18 187.79,154.18 188.08,154.19 188.37,154.19 188.65,154.19 188.94,154.19 189.23,154.2 189.52,154.2 189.81,154.2 190.09,154.2 190.38,154.2 190.67,154.2 190.96,154.2 191.25,154.2 191.53,154.2 191.82,154.2 192.11,154.2 192.4,154.2 192.69,154.2 192.98,154.2 193.26,154.2 193.55,154.2 193.84,154.2 194.13,154.2 194.42,154.2 194.7,154.2 194.99,154.2 195.28,154.2 195.57,154.2 195.86,154.2 196.15,154.2 196.43,154.2 196.72,154.2 197.01,154.2 197.3,154.2 197.59,154.2 197.87,154.2 198.16,154.2 198.45,154.2 198.74,154.2 199.03,154.2 199.31,154.2 199.6,154.2 199.89,154.2 200.18,154.2 200.47,154.2 200.76,154.2 201.04,154.2 201.33,154.2 201.62,154.2 201.91,154.2 202.2,154.2 202.48,154.2 202.77,154.2 203.06,154.2 203.35,154.2 203.64,154.2 203.92,154.2 204.21,154.2 204.5,154.2 204.79,154.2 205.08,154.2 205.37,154.2 205.65,154.2 205.94,154.2 206.23,154.2 206.52,154.2 206.81,154.2 207.09,154.2 207.38,154.2 207.67,154.2 207.96,154.2 208.25,154.2 208.54,154.2 208.82,154.2 209.11,154.2 209.4,154.2 209.69,154.2 209.98,154.2 210.26,154.2 210.55,154.2 210.84,154.2 211.13,154.2 211.42,154.2 211.7,154.2 211.99,154.2 212.28,154.2 212.57,154.2 212.86,154.2 213.15,154.2 213.43,154.2 213.72,154.2 214.01,154.2 214.3,154.2 214.59,154.2 214.87,154.2 215.16,154.2 215.45,154.2 215.74,154.2 216.03,154.2 216.31,154.2 216.6,154.2 216.89,154.2 217.18,154.2 217.47,154.2 217.76,154.2 218.04,154.2 218.33,154.2 218.62,154.2 218.91,154.2 219.2,154.2 219.48,154.2 219.77,154.2 220.06,154.2 220.35,154.2 220.64,154.2 220.93,154.2 221.21,154.2 221.5,154.2 221.79,154.2 222.08,154.2 222.37,154.2 222.65,154.2 222.94,154.2 223.23,154.2 223.52,154.2 223.81,154.2 224.09,154.2 224.38,154.2 224.67,154.2 224.96,154.2 225.25,154.2 225.54,154.2 225.82,154.2 226.11,154.2 226.4,154.2 226.69,154.2 226.98,154.2 227.26,154.2 227.55,154.2 227.84,154.2 228.13,154.2 228.42,154.2 228.7,154.2 228.99,154.2 229.28,154.2 229.57,154.2 229.86,154.2 230.15,154.2 230.43,154.2 230.72,154.2 231.01,154.2" fill="none" stroke="#f9c10c" stroke-width="1.5" stroke-linejoin="round" stroke-linecap="round" />
<polyline points="29.6,19.2 29.89,28.18 30.18,35.82 30.46,41.8 30.75,46.59 31.04,50.7 31.33,54.59 31.62,58.01 31.91,60.26 32.19,61.92 32.48,63.17 32.77,63.92 33.06,64.44 33.35,64.81 33.63,64.91 33.92,64.75 34.21,64.42 34.5,63.98 34.79,63.51 35.07,63.1 35.36,62.74 35.65,62.37 35.94,62.01 36.23,61.73 36.52,61.58 36.8,61.63 37.09,61.86 37.38,62.22 37.67,62.65 37.96,63.2 38.24,63.9 38.53,64.71 38.82,65.6 39.11,66.52 39.4,67.49 39.68,68.55 39.97,69.67 40.26,70.8 40.55,71.93 40.84,73.01 41.13,74.02 41.41,75.03 41.7,76.04 41.99,77.04 42.28,78 42.57,78.93 42.85,79.82 43.14,80.65 43.43,81.43 43.72,82.21 44.01,82.95 44.3,83.67 44.58,84.34 44.87,84.97 45.16,85.54 45.45,86.05 45.74,86.55 46.02,87.04 46.31,87.51 46.6,87.93 46.89,88.3 47.18,88.59 47.46,88.78 47.75,88.89 48.04,88.99 48.33,89.07 48.62,89.15 48.91,89.21 49.19,89.26 49.48,89.3 49.77,89.33 50.06,89.33 50.35,89.3 50.63,89.26 50.92,89.2 51.21,89.14 51.5,89.07 51.79,89.03 52.07,89 52.36,89.01 52.65,89.05 52.94,89.13 53.23,89.24 53.52,89.36 53.8,89.5 54.09,89.63 54.38,89.76 54.67,89.87 54.96,90 55.24,90.15 55.53,90.3 55.82,90.44 56.11,90.56 56.4,90.65 56.69,90.71 56.97,90.71 57.26,90.67 57.55,90.59 57.84,90.47 58.13,90.33 58.41,90.17 58.7,89.99 58.99,89.8 59.28,89.61 59.57,89.38 59.85,89.11 60.14,88.8 60.43,88.45 60.72,88.07 61.01,87.66 61.3,87.24 61.58,86.79 61.87,86.28 62.16,85.71 62.45,85.09 62.74,84.43 63.02,83.75 63.31,83.06 63.6,82.38 63.89,81.67 64.18,80.91 64.46,80.11 64.75,79.32 65.04,78.57 65.33,77.89 65.62,77.3 65.91,76.75 66.19,76.23 66.48,75.74 66.77,75.27 67.06,74.83 67.35,74.42 67.63,74.05 67.92,73.7 68.21,73.37 68.5,73.06 68.79,72.77 69.08,72.51 69.36,72.28 69.65,72.07 69.94,71.88 70.23,71.69 70.52,71.5 70.8,71.32 71.09,71.15 71.38,71 71.67,70.89 71.96,70.81 72.24,70.78 72.53,70.8 72.82,70.86 73.11,70.95 73.4,71.08 73.69,71.23 73.97,71.4 74.26,71.59 74.55,71.79 74.84,72.01 75.13,72.25 75.41,72.53 75.7,72.88 75.99,73.27 76.28,73.7 76.57,74.18 76.85,74.69 77.14,75.22 77.43,75.78 77.72,76.35 78.01,76.93 78.3,77.57 78.58,78.28 78.87,79.05 79.16,79.87 79.45,80.73 79.74,81.6 80.02,82.48 80.31,83.36 80.6,84.22 80.89,85.09 81.18,85.98 81.47,86.87 81.75,87.78 82.04,88.69 82.33,89.61 82.62,90.52 82.91,91.44 83.19,92.34 83.48,93.24 83.77,94.12 84.06,94.99 84.35,95.84 84.63,96.69 84.92,97.52 85.21,98.35 85.5,99.17 85.79,99.99 86.08,100.81 86.36,101.63 86.65,102.46 86.94,103.3 87.23,104.15 87.52,105.02 87.8,105.9 88.09,106.8 88.38,107.74 88.67,108.69 88.96,109.66 89.25,110.64 89.53,111.62 89.82,112.6 90.11,113.57 90.4,114.52 90.69,115.45 90.97,116.35 91.26,117.23 91.55,118.1 91.84,118.98 92.13,119.85 92.41,120.71 92.7,121.55 92.99,122.36 93.28,123.13 93.57,123.87 93.86,124.56 94.14,125.2 94.43,125.81 94.72,126.4 95.01,126.97 95.3,127.52 95.58,128.04 95.87,128.54 96.16,129.02 96.45,129.46 96.74,129.88 97.02,130.27 97.31,130.66 97.6,131.06 97.89,131.46 98.18,131.85 98.47,132.22 98.75,132.57 99.04,132.89 99.33,133.15 99.62,133.37 99.91,133.52 100.19,133.6 100.48,133.61 100.77,133.59 101.06,133.55 101.35,133.48 101.64,133.39 101.92,133.29 102.21,133.18 102.5,133.06 102.79,132.94 103.08,132.81 103.36,132.65 103.65,132.46 103.94,132.26 104.23,132.03 104.52,131.78 104.8,131.51 105.09,131.24 105.38,130.95 105.67,130.63 105.96,130.28 106.25,129.89 106.53,129.46 106.82,129.02 107.11,128.55 107.4,128.06 107.69,127.56 107.97,127.05 108.26,126.54 108.55,126.03 108.84,125.5 109.13,124.96 109.41,124.4 109.7,123.82 109.99,123.24 110.28,122.65 110.57,122.05 110.86,121.46 111.14,120.85 111.43,120.25 111.72,119.63 112.01,119.01 112.3,118.38 112.58,117.73 112.87,117.08 113.16,116.41 113.45,115.72 113.74,115.02 114.03,114.3 114.31,113.55 114.6,112.77 114.89,111.98 115.18,111.17 115.47,110.35 115.75,109.53 116.04,108.69 116.33,107.86 116.62,107.03 116.91,106.21 117.19,105.4 117.48,104.61 117.77,103.82 118.06,103.04 118.35,102.26 118.64,101.49 118.92,100.71 119.21,99.94 119.5,99.17 119.79,98.41 120.08,97.64 120.36,96.88 120.65,96.11 120.94,95.35 121.23,94.59 121.52,93.83 121.8,93.09 122.09,92.34 122.38,91.6 122.67,90.85 122.96,90.09 123.25,89.31 123.53,88.52 123.82,87.71 124.11,86.88 124.4,86.04 124.69,85.21 124.97,84.37 125.26,83.55 125.55,82.75 125.84,81.97 126.13,81.22 126.42,80.46 126.7,79.72 126.99,78.98 127.28,78.27 127.57,77.57 127.86,76.9 128.14,76.26 128.43,75.65 128.72,75.07 129.01,74.49 129.3,73.92 129.58,73.35 129.87,72.8 130.16,72.27 130.45,71.75 130.74,71.26 131.03,70.8 131.31,70.38 131.6,69.99 131.89,69.64 132.18,69.33 132.47,69.04 132.75,68.75 133.04,68.47 133.33,68.19 133.62,67.92 133.91,67.68 134.19,67.45 134.48,67.25 134.77,67.08 135.06,66.95 135.35,66.85 135.64,66.8 135.92,66.8 136.21,66.84 136.5,66.91 136.79,67.03 137.08,67.17 137.36,67.34 137.65,67.52 137.94,67.73 138.23,67.94 138.52,68.16 138.81,68.38 139.09,68.64 139.38,68.94 139.67,69.28 139.96,69.66 140.25,70.08 140.53,70.52 140.82,70.99 141.11,71.47 141.4,71.97 141.69,72.47 141.97,73 142.26,73.55 142.55,74.14 142.84,74.76 143.13,75.4 143.42,76.07 143.7,76.78 143.99,77.51 144.28,78.27 144.57,79.06 144.86,79.9 145.14,80.81 145.43,81.77 145.72,82.79 146.01,83.84 146.3,84.91 146.58,86 146.87,87.09 147.16,88.2 147.45,89.34 147.74,90.51 148.03,91.69 148.31,92.91 148.6,94.14 148.89,95.4 149.18,96.67 149.47,97.97 149.75,99.3 150.04,100.67 150.33,102.06 150.62,103.48 150.91,104.91 151.2,106.35 151.48,107.79 151.77,109.24 152.06,110.71 152.35,112.2 152.64,113.69 152.92,115.18 153.21,116.66 153.5,118.11 153.79,119.52 154.08,120.92 154.36,122.33 154.65,123.72 154.94,125.09 155.23,126.42 155.52,127.7 155.81,128.92 156.09,130.06 156.38,131.18 156.67,132.27 156.96,133.33 157.25,134.35 157.53,135.33 157.82,136.27 158.11,137.16 158.4,138 158.69,138.79 158.97,139.56 159.26,140.3 159.55,141.03 159.84,141.73 160.13,142.4 160.42,143.04 160.7,143.66 160.99,144.24 161.28,144.79 161.57,145.3 161.86,145.77 162.14,146.22 162.43,146.66 162.72,147.09 163.01,147.5 163.3,147.9 163.59,148.28 163.87,148.64 164.16,148.98 164.45,149.29 164.74,149.58 165.03,149.84 165.31,150.07 165.6,150.28 165.89,150.47 166.18,150.66 166.47,150.83 166.75,151 167.04,151.17 167.33,151.32 167.62,151.47 167.91,151.61 168.2,151.74 168.48,151.87 168.77,151.99 169.06,152.1 169.35,152.21 169.64,152.31 169.92,152.41 170.21,152.5 170.5,152.58 170.79,152.67 171.08,152.74 171.36,152.82 171.65,152.89 171.94,152.96 172.23,153.03 172.52,153.09 172.81,153.16 173.09,153.21 173.38,153.27 173.67,153.32 173.96,153.37 174.25,153.41 174.53,153.46 174.82,153.49 175.11,153.53 175.4,153.56 175.69,153.6 175.98,153.63 176.26,153.66 176.55,153.69 176.84,153.72 177.13,153.75 177.42,153.78 177.7,153.8 177.99,153.83 178.28,153.86 178.57,153.88 178.86,153.9 179.14,153.92 179.43,153.94 179.72,153.96 180.01,153.98 180.3,154 180.59,154.01 180.87,154.03 181.16,154.04 181.45,154.05 181.74,154.06 182.03,154.07 182.31,154.07 182.6,154.08 182.89,154.09 183.18,154.1 183.47,154.1 183.76,154.11 184.04,154.12 184.33,154.12 184.62,154.13 184.91,154.14 185.2,154.14 185.48,154.15 185.77,154.15 186.06,154.16 186.35,154.16 186.64,154.17 186.92,154.17 187.21,154.17 187.5,154.18 187.79,154.18 188.08,154.19 188.37,154.19 188.65,154.19 188.94,154.19 189.23,154.2 189.52,154.2 189.81,154.2 190.09,154.2 190.38,154.2 190.67,154.2 190.96,154.2 191.25,154.2 191.53,154.2 191.82,154.2 192.11,154.2 192.4,154.2 192.69,154.2 192.98,154.2 193.26,154.2 193.55,154.2 193.84,154.2 194.13,154.2 194.42,154.2 194.7,154.2 194.99,154.2 195.28,154.2 195.57,154.2 195.86,154.2 196.15,154.2 196.43,154.2 196.72,154.2 197.01,154.2 197.3,154.2 197.59,154.2 197.87,154.2 198.16,154.2 198.45,154.2 198.74,154.2 199.03,154.2 199.31,154.2 199.6,154.2 199.89,154.2 200.18,154.2 200.47,154.2 200.76,154.2 201.04,154.2 201.33,154.2 201.62,154.2 201.91,154.2 202.2,154.2 202.48,154.2 202.77,154.2 203.06,154.2 203.35,154.2 203.64,154.2 203.92,154.2 204.21,154.2 204.5,154.2 204.79,154.2 205.08,154.2 205.37,154.2 205.65,154.2 205.94,154.2 206.23,154.2 206.52,154.2 206.81,154.2 207.09,154.2 207.38,154.2 207.67,154.2 207.96,154.2 208.25,154.2 208.54,154.2 208.82,154.2 209.11,154.2 209.4,154.2 209.69,154.2 209.98,154.2 210.26,154.2 210.55,154.2 210.84,154.2 211.13,154.2 211.42,154.2 211.7,154.2 211.99,154.2 212.28,154.2 212.57,154.2 212.86,154.2 213.15,154.2 213.43,154.2 213.72,154.2 214.01,154.2 214.3,154.2 214.59,154.2 214.87,154.2 215.16,154.2 215.45,154.2 215.74,154.2 216.03,154.2 216.31,154.2 216.6,154.2 216.89,154.2 217.18,154.2 217.47,154.2 217.76,154.2 218.04,154.2 218.33,154.2 218.62,154.2 218.91,154.2 219.2,154.2 219.48,154.2 219.77,154.2 220.06,154.2 220.35,154.2 220.64,154.2 220.93,154.2 221.21,154.2 221.5,154.2 221.79,154.2 222.08,154.2 222.37,154.2 222.65,154.2 222.94,154.2 223.23,154.2 223.52,154.2 223.81,154.2 224.09,154.2 224.38,154.2 224.67,154.2 224.96,154.2 225.25,154.2 225.54,154.2 225.82,154.2 226.11,154.2 226.4,154.2 226.69,154.2 226.98,154.2 227.26,154.2 227.55,154.2 227.84,154.2 228.13,154.2 228.42,154.2 228.7,154.2 228.99,154.2 229.28,154.2 229.57,154.2 229.86,154.2 230.15,154.2 230.43,154.2 230.72,154.2 231.01,154.2" fill="none" stroke="#33b257" stroke-width="1.5" stroke-linejoin="round" stroke-linecap="round" />
<polyline points="29.6,19.2 29.89,28.33 30.18,36.07 30.46,42.11 30.75,46.93 31.04,51.06 31.33,54.98 31.62,58.43 31.91,60.69 32.19,62.36 32.48,63.61 32.77,64.4 33.06,64.97 33.35,65.39 33.63,65.54 33.92,65.4 34.21,65.09 34.5,64.67 34.79,64.23 35.07,63.86 35.36,63.52 35.65,63.16 35.94,62.82 36.23,62.56 36.52,62.43 36.8,62.5 37.09,62.74 37.38,63.11 37.67,63.52 37.96,64.04 38.24,64.73 38.53,65.54 38.82,66.41 39.11,67.3 39.4,68.23 39.68,69.25 39.97,70.32 40.26,71.42 40.55,72.51 40.84,73.56 41.13,74.55 41.41,75.54 41.7,76.53 41.99,77.51 42.28,78.46 42.57,79.38 42.85,80.24 43.14,81.04 43.43,81.81 43.72,82.55 44.01,83.27 44.3,83.95 44.58,84.6 44.87,85.19 45.16,85.73 45.45,86.22 45.74,86.7 46.02,87.17 46.31,87.62 46.6,88.03 46.89,88.38 47.18,88.65 47.46,88.82 47.75,88.9 48.04,88.97 48.33,89.03 48.62,89.09 48.91,89.13 49.19,89.17 49.48,89.19 49.77,89.2 50.06,89.19 50.35,89.15 50.63,89.08 50.92,89.01 51.21,88.93 51.5,88.85 51.79,88.79 52.07,88.75 52.36,88.75 52.65,88.78 52.94,88.86 53.23,88.97 53.52,89.1 53.8,89.23 54.09,89.37 54.38,89.5 54.67,89.62 54.96,89.76 55.24,89.92 55.53,90.08 55.82,90.24 56.11,90.38 56.4,90.49 56.69,90.55 56.97,90.57 57.26,90.53 57.55,90.45 57.84,90.34 58.13,90.2 58.41,90.04 58.7,89.86 58.99,89.67 59.28,89.47 59.57,89.25 59.85,88.97 60.14,88.65 60.43,88.3 60.72,87.91 61.01,87.5 61.3,87.06 61.58,86.61 61.87,86.09 62.16,85.51 62.45,84.88 62.74,84.21 63.02,83.52 63.31,82.82 63.6,82.13 63.89,81.41 64.18,80.63 64.46,79.82 64.75,79.01 65.04,78.24 65.33,77.54 65.62,76.93 65.91,76.36 66.19,75.82 66.48,75.31 66.77,74.83 67.06,74.37 67.35,73.95 67.63,73.56 67.92,73.19 68.21,72.85 68.5,72.52 68.79,72.21 69.08,71.93 69.36,71.68 69.65,71.45 69.94,71.24 70.23,71.02 70.52,70.8 70.8,70.59 71.09,70.4 71.38,70.23 71.67,70.09 71.96,69.99 72.24,69.94 72.53,69.94 72.82,69.98 73.11,70.05 73.4,70.16 73.69,70.29 73.97,70.44 74.26,70.62 74.55,70.8 74.84,71 75.13,71.2 75.41,71.46 75.7,71.78 75.99,72.15 76.28,72.57 76.57,73.03 76.85,73.52 77.14,74.03 77.43,74.57 77.72,75.13 78.01,75.69 78.3,76.32 78.58,77.02 78.87,77.79 79.16,78.6 79.45,79.45 79.74,80.32 80.02,81.19 80.31,82.06 80.6,82.91 80.89,83.77 81.18,84.65 81.47,85.55 81.75,86.45 82.04,87.37 82.33,88.28 82.62,89.2 82.91,90.12 83.19,91.02 83.48,91.92 83.77,92.8 84.06,93.67 84.35,94.53 84.63,95.37 84.92,96.2 85.21,97.03 85.5,97.85 85.79,98.68 86.08,99.5 86.36,100.33 86.65,101.17 86.94,102.02 87.23,102.88 87.52,103.76 87.8,104.65 88.09,105.58 88.38,106.53 88.67,107.51 88.96,108.5 89.25,109.51 89.53,110.52 89.82,111.53 90.11,112.53 90.4,113.52 90.69,114.48 90.97,115.41 91.26,116.31 91.55,117.22 91.84,118.13 92.13,119.03 92.41,119.91 92.7,120.78 92.99,121.62 93.28,122.42 93.57,123.19 93.86,123.9 94.14,124.55 94.43,125.18 94.72,125.79 95.01,126.37 95.3,126.93 95.58,127.46 95.87,127.97 96.16,128.46 96.45,128.91 96.74,129.34 97.02,129.74 97.31,130.14 97.6,130.55 97.89,130.96 98.18,131.36 98.47,131.75 98.75,132.11 99.04,132.43 99.33,132.7 99.62,132.92 99.91,133.07 100.19,133.14 100.48,133.14 100.77,133.11 101.06,133.06 101.35,132.98 101.64,132.89 101.92,132.78 102.21,132.66 102.5,132.53 102.79,132.4 103.08,132.27 103.36,132.1 103.65,131.9 103.94,131.68 104.23,131.44 104.52,131.18 104.8,130.9 105.09,130.61 105.38,130.31 105.67,129.98 105.96,129.6 106.25,129.19 106.53,128.74 106.82,128.27 107.11,127.78 107.4,127.26 107.69,126.74 107.97,126.21 108.26,125.68 108.55,125.15 108.84,124.6 109.13,124.03 109.41,123.45 109.7,122.85 109.99,122.24 110.28,121.63 110.57,121 110.86,120.38 111.14,119.75 111.43,119.11 111.72,118.47 112.01,117.82 112.3,117.16 112.58,116.49 112.87,115.8 113.16,115.1 113.45,114.39 113.74,113.66 114.03,112.91 114.31,112.14 114.6,111.33 114.89,110.51 115.18,109.67 115.47,108.82 115.75,107.97 116.04,107.1 116.33,106.24 116.62,105.38 116.91,104.53 117.19,103.69 117.48,102.87 117.77,102.06 118.06,101.25 118.35,100.45 118.64,99.65 118.92,98.85 119.21,98.06 119.5,97.27 119.79,96.48 120.08,95.69 120.36,94.9 120.65,94.12 120.94,93.34 121.23,92.56 121.52,91.79 121.8,91.02 122.09,90.26 122.38,89.5 122.67,88.74 122.96,87.97 123.25,87.18 123.53,86.37 123.82,85.54 124.11,84.69 124.4,83.83 124.69,82.97 124.97,82.11 125.26,81.27 125.55,80.44 125.84,79.64 126.13,78.87 126.42,78.1 126.7,77.33 126.99,76.58 127.28,75.84 127.57,75.13 127.86,74.44 128.14,73.78 128.43,73.16 128.72,72.56 129.01,71.96 129.3,71.37 129.58,70.79 129.87,70.22 130.16,69.67 130.45,69.14 130.74,68.64 131.03,68.17 131.31,67.73 131.6,67.33 131.89,66.97 132.18,66.66 132.47,66.36 132.75,66.06 133.04,65.77 133.33,65.48 133.62,65.21 133.91,64.95 134.19,64.72 134.48,64.51 134.77,64.34 135.06,64.2 135.35,64.1 135.64,64.05 135.92,64.05 136.21,64.09 136.5,64.17 136.79,64.29 137.08,64.44 137.36,64.61 137.65,64.8 137.94,65.01 138.23,65.23 138.52,65.46 138.81,65.69 139.09,65.96 139.38,66.27 139.67,66.63 139.96,67.03 140.25,67.45 140.53,67.91 140.82,68.39 141.11,68.89 141.4,69.4 141.69,69.92 141.97,70.46 142.26,71.03 142.55,71.63 142.84,72.27 143.13,72.93 143.42,73.63 143.7,74.35 143.99,75.11 144.28,75.89 144.57,76.71 144.86,77.57 145.14,78.51 145.43,79.52 145.72,80.57 146.01,81.66 146.3,82.78 146.58,83.91 146.87,85.04 147.16,86.2 147.45,87.38 147.74,88.59 148.03,89.82 148.31,91.08 148.6,92.37 148.89,93.67 149.18,95 149.47,96.34 149.75,97.73 150.04,99.15 150.33,100.6 150.62,102.08 150.91,103.56 151.2,105.06 151.48,106.55 151.77,108.06 152.06,109.58 152.35,111.13 152.64,112.68 152.92,114.23 153.21,115.76 153.5,117.26 153.79,118.73 154.08,120.19 154.36,121.65 154.65,123.11 154.94,124.53 155.23,125.92 155.52,127.24 155.81,128.5 156.09,129.69 156.38,130.84 156.67,131.95 156.96,133.04 157.25,134.09 157.53,135.09 157.82,136.05 158.11,136.96 158.4,137.81 158.69,138.62 158.97,139.4 159.26,140.16 159.55,140.89 159.84,141.6 160.13,142.29 160.42,142.94 160.7,143.56 160.99,144.15 161.28,144.7 161.57,145.22 161.86,145.7 162.14,146.16 162.43,146.6 162.72,147.04 163.01,147.46 163.3,147.86 163.59,148.24 163.87,148.61 164.16,148.95 164.45,149.26 164.74,149.56 165.03,149.82 165.31,150.05 165.6,150.26 165.89,150.45 166.18,150.64 166.47,150.82 166.75,150.99 167.04,151.15 167.33,151.3 167.62,151.45 167.91,151.59 168.2,151.72 168.48,151.85 168.77,151.97 169.06,152.08 169.35,152.19 169.64,152.29 169.92,152.39 170.21,152.48 170.5,152.57 170.79,152.65 171.08,152.73 171.36,152.8 171.65,152.88 171.94,152.95 172.23,153.02 172.52,153.08 172.81,153.14 173.09,153.2 173.38,153.26 173.67,153.31 173.96,153.36 174.25,153.4 174.53,153.45 174.82,153.48 175.11,153.52 175.4,153.55 175.69,153.59 175.98,153.62 176.26,153.65 176.55,153.68 176.84,153.71 177.13,153.74 177.42,153.77 177.7,153.8 177.99,153.82 178.28,153.85 178.57,153.87 178.86,153.89 179.14,153.92 179.43,153.94 179.72,153.96 180.01,153.97 180.3,153.99 180.59,154 180.87,154.02 181.16,154.03 181.45,154.04 181.74,154.05 182.03,154.06 182.31,154.06 182.6,154.07 182.89,154.08 183.18,154.09 183.47,154.1 183.76,154.1 184.04,154.11 184.33,154.12 184.62,154.12 184.91,154.13 185.2,154.14 185.48,154.14 185.77,154.15 186.06,154.15 186.35,154.16 186.64,154.16 186.92,154.17 187.21,154.17 187.5,154.18 187.79,154.18 188.08,154.18 188.37,154.19 188.65,154.19 188.94,154.19 189.23,154.19 189.52,154.2 189.81,154.2 190.09,154.2 190.38,154.2 190.67,154.2 190.96,154.2 191.25,154.2 191.53,154.2 191.82,154.2 192.11,154.2 192.4,154.2 192.69,154.2 192.98,154.2 193.26,154.2 193.55,154.2 193.84,154.2 194.13,154.2 194.42,154.2 194.7,154.2 194.99,154.2 195.28,154.2 195.57,154.2 195.86,154.2 196.15,154.2 196.43,154.2 196.72,154.2 197.01,154.2 197.3,154.2 197.59,154.2 197.87,154.2 198.16,154.2 198.45,154.2 198.74,154.2 199.03,154.2 199.31,154.2 199.6,154.2 199.89,154.2 200.18,154.2 200.47,154.2 200.76,154.2 201.04,154.2 201.33,154.2 201.62,154.2 201.91,154.2 202.2,154.2 202.48,154.2 202.77,154.2 203.06,154.2 203.35,154.2 203.64,154.2 203.92,154.2 204.21,154.2 204.5,154.2 204.79,154.2 205.08,154.2 205.37,154.2 205.65,154.2 205.94,154.2 206.23,154.2 206.52,154.2 206.81,154.2 207.09,154.2 207.38,154.2 207.67,154.2 207.96,154.2 208.25,154.2 208.54,154.2 208.82,154.2 209.11,154.2 209.4,154.2 209.69,154.2 209.98,154.2 210.26,154.2 210.55,154.2 210.84,154.2 211.13,154.2 211.42,154.2 211.7,154.2 211.99,154.2 212.28,154.2 212.57,154.2 212.86,154.2 213.15,154.2 213.43,154.2 213.72,154.2 214.01,154.2 214.3,154.2 214.59,154.2 214.87,154.2 215.16,154.2 215.45,154.2 215.74,154.2 216.03,154.2 216.31,154.2 216.6,154.2 216.89,154.2 217.18,154.2 217.47,154.2 217.76,154.2 218.04,154.2 218.33,154.2 218.62,154.2 218.91,154.2 219.2,154.2 219.48,154.2 219.77,154.2 220.06,154.2 220.35,154.2 220.64,154.2 220.93,154.2 221.21,154.2 221.5,154.2 221.79,154.2 222.08,154.2 222.37,154.2 222.65,154.2 222.94,154.2 223.23,154.2 223.52,154.2 223.81,154.2 224.09,154.2 224.38,154.2 224.67,154.2 224.96,154.2 225.25,154.2 225.54,154.2 225.82,154.2 226.11,154.2 226.4,154.2 226.69,154.2 226.98,154.2 227.26,154.2 227.55,154.2 227.84,154.2 228.13,154.2 228.42,154.2 228.7,154.2 228.99,154.2 229.28,154.2 229.57,154.2 229.86,154.2 230.15,154.2 230.43,154.2 230.72,154.2 231.01,154.2" fill="none" stroke="#1a5cb2" stroke-width="1.5" stroke-linejoin="round" stroke-linecap="round" />
<polyline points="29.6,19.2 29.89,28.41 30.18,36.22 30.46,42.3 30.75,47.13 31.04,51.27 31.33,55.22 31.62,58.68 31.91,60.96 32.19,62.62 32.48,63.88 32.77,64.69 33.06,65.29 33.35,65.74 33.63,65.91 33.92,65.79 34.21,65.49 34.5,65.09 34.79,64.67 35.07,64.31 35.36,63.99 35.65,63.64 35.94,63.31 36.23,63.06 36.52,62.94 36.8,63.02 37.09,63.27 37.38,63.63 37.67,64.04 37.96,64.55 38.24,65.23 38.53,66.03 38.82,66.89 39.11,67.76 39.4,68.67 39.68,69.66 39.97,70.71 40.26,71.79 40.55,72.86 40.84,73.89 41.13,74.87 41.41,75.85 41.7,76.83 41.99,77.79 42.28,78.74 42.57,79.64 42.85,80.49 43.14,81.28 43.43,82.03 43.72,82.75 44.01,83.45 44.3,84.12 44.58,84.75 44.87,85.33 45.16,85.85 45.45,86.32 45.74,86.79 46.02,87.25 46.31,87.69 46.6,88.09 46.89,88.43 47.18,88.68 47.46,88.84 47.75,88.91 48.04,88.96 48.33,89.01 48.62,89.05 48.91,89.09 49.19,89.11 49.48,89.13 49.77,89.13 50.06,89.11 50.35,89.05 50.63,88.98 50.92,88.89 51.21,88.8 51.5,88.72 51.79,88.65 52.07,88.6 52.36,88.59 52.65,88.63 52.94,88.7 53.23,88.81 53.52,88.94 53.8,89.08 54.09,89.22 54.38,89.35 54.67,89.47 54.96,89.62 55.24,89.79 55.53,89.96 55.82,90.12 56.11,90.27 56.4,90.39 56.69,90.46 56.97,90.48 57.26,90.45 57.55,90.37 57.84,90.26 58.13,90.12 58.41,89.95 58.7,89.77 58.99,89.58 59.28,89.39 59.57,89.16 59.85,88.89 60.14,88.57 60.43,88.21 60.72,87.82 61.01,87.4 61.3,86.96 61.58,86.5 61.87,85.97 62.16,85.39 62.45,84.75 62.74,84.08 63.02,83.39 63.31,82.68 63.6,81.98 63.89,81.25 64.18,80.46 64.46,79.64 64.75,78.83 65.04,78.04 65.33,77.33 65.62,76.71 65.91,76.13 66.19,75.58 66.48,75.06 66.77,74.56 67.06,74.1 67.35,73.67 67.63,73.27 67.92,72.89 68.21,72.54 68.5,72.2 68.79,71.88 69.08,71.59 69.36,71.32 69.65,71.08 69.94,70.85 70.23,70.62 70.52,70.38 70.8,70.16 71.09,69.95 71.38,69.77 71.67,69.61 71.96,69.5 72.24,69.43 72.53,69.42 72.82,69.45 73.11,69.52 73.4,69.61 73.69,69.73 73.97,69.88 74.26,70.04 74.55,70.21 74.84,70.39 75.13,70.58 75.41,70.83 75.7,71.13 75.99,71.49 76.28,71.89 76.57,72.34 76.85,72.82 77.14,73.33 77.43,73.85 77.72,74.4 78.01,74.96 78.3,75.58 78.58,76.27 78.87,77.04 79.16,77.84 79.45,78.69 79.74,79.55 80.02,80.42 80.31,81.28 80.6,82.13 80.89,82.99 81.18,83.86 81.47,84.76 81.75,85.66 82.04,86.57 82.33,87.49 82.62,88.41 82.91,89.33 83.19,90.24 83.48,91.13 83.77,92.02 84.06,92.88 84.35,93.74 84.63,94.58 84.92,95.41 85.21,96.24 85.5,97.07 85.79,97.89 86.08,98.72 86.36,99.56 86.65,100.4 86.94,101.25 87.23,102.12 87.52,103.01 87.8,103.91 88.09,104.85 88.38,105.81 88.67,106.8 88.96,107.82 89.25,108.84 89.53,109.87 89.82,110.89 90.11,111.91 90.4,112.92 90.69,113.9 90.97,114.85 91.26,115.77 91.55,116.69 91.84,117.61 92.13,118.53 92.41,119.44 92.7,120.32 92.99,121.18 93.28,122 93.57,122.78 93.86,123.5 94.14,124.17 94.43,124.8 94.72,125.42 95.01,126.01 95.3,126.58 95.58,127.12 95.87,127.64 96.16,128.12 96.45,128.59 96.74,129.02 97.02,129.42 97.31,129.82 97.6,130.24 97.89,130.66 98.18,131.07 98.47,131.46 98.75,131.83 99.04,132.15 99.33,132.43 99.62,132.65 99.91,132.8 100.19,132.87 100.48,132.86 100.77,132.83 101.06,132.77 101.35,132.68 101.64,132.58 101.92,132.47 102.21,132.35 102.5,132.22 102.79,132.08 103.08,131.94 103.36,131.77 103.65,131.57 103.94,131.34 104.23,131.09 104.52,130.83 104.8,130.54 105.09,130.24 105.38,129.92 105.67,129.58 105.96,129.2 106.25,128.77 106.53,128.31 106.82,127.83 107.11,127.32 107.4,126.79 107.69,126.25 107.97,125.71 108.26,125.17 108.55,124.63 108.84,124.07 109.13,123.48 109.41,122.88 109.7,122.27 109.99,121.65 110.28,121.01 110.57,120.38 110.86,119.73 111.14,119.08 111.43,118.43 111.72,117.77 112.01,117.11 112.3,116.43 112.58,115.74 112.87,115.04 113.16,114.33 113.45,113.6 113.74,112.85 114.03,112.09 114.31,111.29 114.6,110.48 114.89,109.64 115.18,108.78 115.47,107.91 115.75,107.03 116.04,106.15 116.33,105.27 116.62,104.4 116.91,103.53 117.19,102.67 117.48,101.84 117.77,101.01 118.06,100.19 118.35,99.37 118.64,98.55 118.92,97.74 119.21,96.93 119.5,96.13 119.79,95.32 120.08,94.52 120.36,93.73 120.65,92.93 120.94,92.14 121.23,91.34 121.52,90.56 121.8,89.79 122.09,89.02 122.38,88.26 122.67,87.48 122.96,86.7 123.25,85.91 123.53,85.09 123.82,84.25 124.11,83.38 124.4,82.51 124.69,81.64 124.97,80.76 125.26,79.91 125.55,79.07 125.84,78.26 126.13,77.47 126.42,76.69 126.7,75.91 126.99,75.15 127.28,74.4 127.57,73.67 127.86,72.97 128.14,72.3 128.43,71.67 128.72,71.06 129.01,70.46 129.3,69.85 129.58,69.26 129.87,68.69 130.16,68.13 130.45,67.59 130.74,67.08 131.03,66.59 131.31,66.15 131.6,65.74 131.89,65.37 132.18,65.06 132.47,64.75 132.75,64.45 133.04,64.15 133.33,63.86 133.62,63.58 133.91,63.32 134.19,63.09 134.48,62.88 134.77,62.7 135.06,62.56 135.35,62.46 135.64,62.41 135.92,62.4 136.21,62.45 136.5,62.53 136.79,62.65 137.08,62.8 137.36,62.98 137.65,63.18 137.94,63.39 138.23,63.62 138.52,63.85 138.81,64.08 139.09,64.36 139.38,64.68 139.67,65.05 139.96,65.45 140.25,65.89 140.53,66.36 140.82,66.84 141.11,67.35 141.4,67.87 141.69,68.39 141.97,68.94 142.26,69.52 142.55,70.13 142.84,70.78 143.13,71.46 143.42,72.17 143.7,72.91 143.99,73.68 144.28,74.48 144.57,75.3 144.86,76.19 145.14,77.15 145.43,78.17 145.72,79.25 146.01,80.36 146.3,81.5 146.58,82.66 146.87,83.82 147.16,85 147.45,86.21 147.74,87.45 148.03,88.71 148.31,90 148.6,91.31 148.89,92.64 149.18,94 149.47,95.37 149.75,96.79 150.04,98.24 150.33,99.73 150.62,101.24 150.91,102.76 151.2,104.29 151.48,105.82 151.77,107.35 152.06,108.91 152.35,110.49 152.64,112.08 152.92,113.66 153.21,115.22 153.5,116.76 153.79,118.26 154.08,119.75 154.36,121.25 154.65,122.74 154.94,124.2 155.23,125.61 155.52,126.97 155.81,128.25 156.09,129.46 156.38,130.63 156.67,131.77 156.96,132.87 157.25,133.93 157.53,134.95 157.82,135.92 158.11,136.84 158.4,137.7 158.69,138.52 158.97,139.31 159.26,140.07 159.55,140.81 159.84,141.53 160.13,142.22 160.42,142.88 160.7,143.5 160.99,144.09 161.28,144.65 161.57,145.17 161.86,145.65 162.14,146.12 162.43,146.57 162.72,147.01 163.01,147.43 163.3,147.83 163.59,148.22 163.87,148.59 164.16,148.93 164.45,149.25 164.74,149.54 165.03,149.81 165.31,150.04 165.6,150.25 165.89,150.44 166.18,150.63 166.47,150.81 166.75,150.98 167.04,151.14 167.33,151.29 167.62,151.44 167.91,151.58 168.2,151.71 168.48,151.84 168.77,151.96 169.06,152.07 169.35,152.18 169.64,152.28 169.92,152.38 170.21,152.47 170.5,152.55 170.79,152.64 171.08,152.72 171.36,152.79 171.65,152.87 171.94,152.94 172.23,153.01 172.52,153.07 172.81,153.13 173.09,153.19 173.38,153.25 173.67,153.3 173.96,153.35 174.25,153.4 174.53,153.44 174.82,153.48 175.11,153.51 175.4,153.55 175.69,153.58 175.98,153.61 176.26,153.65 176.55,153.68 176.84,153.71 177.13,153.74 177.42,153.76 177.7,153.79 177.99,153.82 178.28,153.84 178.57,153.87 178.86,153.89 179.14,153.91 179.43,153.93 179.72,153.95 180.01,153.97 180.3,153.98 180.59,154 180.87,154.01 181.16,154.02 181.45,154.03 181.74,154.04 182.03,154.05 182.31,154.06 182.6,154.07 182.89,154.08 183.18,154.08 183.47,154.09 183.76,154.1 184.04,154.11 184.33,154.11 184.62,154.12 184.91,154.13 185.2,154.13 185.48,154.14 185.77,154.15 186.06,154.15 186.35,154.16 186.64,154.16 186.92,154.17 187.21,154.17 187.5,154.18 187.79,154.18 188.08,154.18 188.37,154.19 188.65,154.19 188.94,154.19 189.23,154.19 189.52,154.2 189.81,154.2 190.09,154.2 190.38,154.2 190.67,154.2 190.96,154.2 191.25,154.2 191.53,154.2 191.82,154.2 192.11,154.2 192.4,154.2 192.69,154.2 192.98,154.2 193.26,154.2 193.55,154.2 193.84,154.2 194.13,154.2 194.42,154.2 194.7,154.2 194.99,154.2 195.28,154.2 195.57,154.2 195.86,154.2 196.15,154.2 196.43,154.2 196.72,154.2 197.01,154.2 197.3,154.2 197.59,154.2 197.87,154.2 198.16,154.2 198.45,154.2 198.74,154.2 199.03,154.2 199.31,154.2 199.6,154.2 199.89,154.2 200.18,154.2 200.47,154.2 200.76,154.2 201.04,154.2 201.33,154.2 201.62,154.2 201.91,154.2 202.2,154.2 202.48,154.2 202.77,154.2 203.06,154.2 203.35,154.2 203.64,154.2 203.92,154.2 204.21,154.2 204.5,154.2 204.79,154.2 205.08,154.2 205.37,154.2 205.65,154.2 205.94,154.2 206.23,154.2 206.52,154.2 206.81,154.2 207.09,154.2 207.38,154.2 207.67,154.2 207.96,154.2 208.25,154.2 208.54,154.2 208.82,154.2 209.11,154.2 209.4,154.2 209.69,154.2 209.98,154.2 210.26,154.2 210.55,154.2 210.84,154.2 211.13,154.2 211.42,154.2 211.7,154.2 211.99,154.2 212.28,154.2 212.57,154.2 212.86,154.2 213.15,154.2 213.43,154.2 213.72,154.2 214.01,154.2 214.3,154.2 214.59,154.2 214.87,154.2 215.16,154.2 215.45,154.2 215.74,154.2 216.03,154.2 216.31,154.2 216.6,154.2 216.89,154.2 217.18,154.2 217.47,154.2 217.76,154.2 218.04,154.2 218.33,154.2 218.62,154.2 218.91,154.2 219.2,154.2 219.48,154.2 219.77,154.2 220.06,154.2 220.35,154.2 220.64,154.2 220.93,154.2 221.21,154.2 221.5,154.2 221.79,154.2 222.08,154.2 222.37,154.2 222.65,154.2 222.94,154.2 223.23,154.2 223.52,154.2 223.81,154.2 224.09,154.2 224.38,154.2 224.67,154.2 224.96,154.2 225.25,154.2 225.54,154.2 225.82,154.2 226.11,154.2 226.4,154.2 226.69,154.2 226.98,154.2 227.26,154.2 227.55,154.2 227.84,154.2 228.13,154.2 228.42,154.2 228.7,154.2 228.99,154.2 229.28,154.2 229.57,154.2 229.86,154.2 230.15,154.2 230.43,154.2 230.72,154.2 231.01,154.2" fill="none" stroke="#a8259e" stroke-width="1.5" stroke-linejoin="round" stroke-linecap="round" />
</g>
<line x1="29.6" y1="19.3" x2="29.6" y2="159.6" stroke="#1a1a1a" stroke-width="1.25"/>
<line x1="29.6" y1="159.6" x2="231.01" y2="159.6" stroke="#1a1a1a" stroke-width="1.25"/>
<line x1="26.7" y1="154.2" x2="29.6" y2="154.2" stroke="#222" stroke-width="1.0"/>
<text x="26" y="156.4" font-size="7.6" text-anchor="end" fill="#333" font-family="'Liberation Sans', Arial, sans-serif" stroke="#333" stroke-width="0.3" >0.0</text>
<line x1="26.7" y1="127.2" x2="29.6" y2="127.2" stroke="#222" stroke-width="1.0"/>
<text x="26" y="129.4" font-size="7.6" text-anchor="end" fill="#333" font-family="'Liberation Sans', Arial, sans-serif" stroke="#333" stroke-width="0.3" >0.5</text>
<line x1="26.7" y1="100.2" x2="29.6" y2="100.2" stroke="#222" stroke-width="1.0"/>
<text x="26" y="102.4" font-size="7.6" text-anchor="end" fill="#333" font-family="'Liberation Sans', Arial, sans-serif" stroke="#333" stroke-width="0.3" >1.0</text>
<line x1="26.7" y1="73.2" x2="29.6" y2="73.2" stroke="#222" stroke-width="1.0"/>
<text x="26" y="75.4" font-size="7.6" text-anchor="end" fill="#333" font-family="'Liberation Sans', Arial, sans-serif" stroke="#333" stroke-width="0.3" >1.5</text>
<line x1="26.7" y1="46.2" x2="29.6" y2="46.2" stroke="#222" stroke-width="1.0"/>
<text x="26" y="48.4" font-size="7.6" text-anchor="end" fill="#333" font-family="'Liberation Sans', Arial, sans-serif" stroke="#333" stroke-width="0.3" >2.0</text>
<line x1="26.7" y1="19.2" x2="29.6" y2="19.2" stroke="#222" stroke-width="1.0"/>
<text x="26" y="21.4" font-size="7.6" text-anchor="end" fill="#333" font-family="'Liberation Sans', Arial, sans-serif" stroke="#333" stroke-width="0.3" >2.5</text>
<line x1="27.8" y1="140.7" x2="29.6" y2="140.7" stroke="#222" stroke-width="0.9"/>
<line x1="27.8" y1="113.7" x2="29.6" y2="113.7" stroke="#222" stroke-width="0.9"/>
<line x1="27.8" y1="86.7" x2="29.6" y2="86.7" stroke="#222" stroke-width="0.9"/>
<line x1="27.8" y1="59.7" x2="29.6" y2="59.7" stroke="#222" stroke-width="0.9"/>
<line x1="27.8" y1="32.7" x2="29.6" y2="32.7" stroke="#222" stroke-width="0.9"/>
<line x1="47.91" y1="159.6" x2="47.91" y2="162.5" stroke="#222" stroke-width="1.0"/>
<text x="47.91" y="169" font-size="7.6" text-anchor="middle" fill="#333" font-family="'Liberation Sans', Arial, sans-serif" stroke="#333" stroke-width="0.3" >300</text>
<line x1="84.53" y1="159.6" x2="84.53" y2="162.5" stroke="#222" stroke-width="1.0"/>
<text x="84.53" y="169" font-size="7.6" text-anchor="middle" fill="#333" font-family="'Liberation Sans', Arial, sans-serif" stroke="#333" stroke-width="0.3" >400</text>
<line x1="121.15" y1="159.6" x2="121.15" y2="162.5" stroke="#222" stroke-width="1.0"/>
<text x="121.15" y="169" font-size="7.6" text-anchor="middle" fill="#333" font-family="'Liberation Sans', Arial, sans-serif" stroke="#333" stroke-width="0.3" >500</text>
<line x1="157.77" y1="159.6" x2="157.77" y2="162.5" stroke="#222" stroke-width="1.0"/>
<text x="157.77" y="169" font-size="7.6" text-anchor="middle" fill="#333" font-family="'Liberation Sans', Arial, sans-serif" stroke="#333" stroke-width="0.3" >600</text>
<line x1="194.39" y1="159.6" x2="194.39" y2="162.5" stroke="#222" stroke-width="1.0"/>
<text x="194.39" y="169" font-size="7.6" text-anchor="middle" fill="#333" font-family="'Liberation Sans', Arial, sans-serif" stroke="#333" stroke-width="0.3" >700</text>
<line x1="231.01" y1="159.6" x2="231.01" y2="162.5" stroke="#222" stroke-width="1.0"/>
<text x="231.01" y="169" font-size="7.6" text-anchor="middle" fill="#333" font-family="'Liberation Sans', Arial, sans-serif" stroke="#333" stroke-width="0.3" >800</text>
<line x1="66.22" y1="159.6" x2="66.22" y2="161.4" stroke="#222" stroke-width="0.9"/>
<line x1="102.84" y1="159.6" x2="102.84" y2="161.4" stroke="#222" stroke-width="0.9"/>
<line x1="139.46" y1="159.6" x2="139.46" y2="161.4" stroke="#222" stroke-width="0.9"/>
<line x1="176.08" y1="159.6" x2="176.08" y2="161.4" stroke="#222" stroke-width="0.9"/>
<line x1="212.7" y1="159.6" x2="212.7" y2="161.4" stroke="#222" stroke-width="0.9"/>
<text x="130.6" y="178.6" font-size="7.3" text-anchor="middle" fill="#333" font-family="'Liberation Sans', Arial, sans-serif" stroke="#333" stroke-width="0.3" textLength="53.5" lengthAdjust="spacingAndGlyphs">wavelength / nm</text>
<text x="10.4" y="86.3" font-size="7.4" text-anchor="middle" fill="#333" font-family="'Liberation Sans', Arial, sans-serif" stroke="#333" stroke-width="0.3" transform="rotate(-90 10.4 86.3)" textLength="56.5" lengthAdjust="spacingAndGlyphs">absorbance / a.u.</text>
<text x="51.8" y="30.7" font-size="7.2" fill="#333" stroke="#333" stroke-width="0.3" font-family="'Liberation Sans', Arial, sans-serif" textLength="167.5" lengthAdjust="spacingAndGlyphs">P(NIPAAm<tspan font-size="4.3" dy="2.2">617</tspan><tspan dy="-2.2">-co-SPA</tspan><tspan font-size="4.3" dy="2.2">7</tspan><tspan dy="-2.2">) while irradiation with 340 nm</tspan></text>
<line x1="179.9" y1="53.85" x2="196.8" y2="53.85" stroke="#111111" stroke-width="1.4"/>
<text x="198.8" y="56.45" font-size="7.2" text-anchor="start" fill="#222" font-family="'Liberation Sans', Arial, sans-serif" stroke="#222" stroke-width="0.3" >0 min</text>
<line x1="179.9" y1="62.72" x2="196.8" y2="62.72" stroke="#ea1c3a" stroke-width="1.4"/>
<text x="198.8" y="65.32" font-size="7.2" text-anchor="start" fill="#222" font-family="'Liberation Sans', Arial, sans-serif" stroke="#222" stroke-width="0.3" >5 min</text>
<line x1="179.9" y1="71.59" x2="196.8" y2="71.59" stroke="#ec610f" stroke-width="1.4"/>
<text x="198.8" y="74.19" font-size="7.2" text-anchor="start" fill="#222" font-family="'Liberation Sans', Arial, sans-serif" stroke="#222" stroke-width="0.3" >10 min</text>
<line x1="179.9" y1="80.46" x2="196.8" y2="80.46" stroke="#f9c10c" stroke-width="1.4"/>
<text x="198.8" y="83.06" font-size="7.2" text-anchor="start" fill="#222" font-family="'Liberation Sans', Arial, sans-serif" stroke="#222" stroke-width="0.3" >15 min</text>
<line x1="179.9" y1="89.33" x2="196.8" y2="89.33" stroke="#33b257" stroke-width="1.4"/>
<text x="198.8" y="91.93" font-size="7.2" text-anchor="start" fill="#222" font-family="'Liberation Sans', Arial, sans-serif" stroke="#222" stroke-width="0.3" >20 min</text>
<line x1="179.9" y1="98.2" x2="196.8" y2="98.2" stroke="#1a5cb2" stroke-width="1.4"/>
<text x="198.8" y="100.8" font-size="7.2" text-anchor="start" fill="#222" font-family="'Liberation Sans', Arial, sans-serif" stroke="#222" stroke-width="0.3" >25 min</text>
<line x1="179.9" y1="107.07" x2="196.8" y2="107.07" stroke="#a8259e" stroke-width="1.4"/>
<text x="198.8" y="109.67" font-size="7.2" text-anchor="start" fill="#222" font-family="'Liberation Sans', Arial, sans-serif" stroke="#222" stroke-width="0.3" >30 min</text>
<text x="126.8" y="198.4" font-size="15.2" text-anchor="middle" fill="#111" font-family="'Liberation Serif', 'Times New Roman', serif" font-weight="bold">(a)</text>
<rect x="260" y="4.6" width="285" height="162.3" fill="#fbfbfb"/>
<g>
<circle cx="269.5" cy="47.5" r="4.1" fill="url(#gG)"/>
<circle cx="276.3" cy="45.5" r="4.1" fill="url(#gG)"/>
<circle cx="283.6" cy="41.1" r="4.1" fill="url(#gY)"/>
<circle cx="290" cy="38" r="4.1" fill="url(#gG)"/>
<circle cx="295.4" cy="42.7" r="4.1" fill="url(#gY)"/>
<circle cx="301.6" cy="47.5" r="4.1" fill="url(#gG)"/>
<circle cx="308" cy="50" r="4.1" fill="url(#gG)"/>
<circle cx="316" cy="49" r="4.1" fill="url(#gG)"/>
<circle cx="324" cy="45.5" r="4.1" fill="url(#gY)"/>
<circle cx="331.5" cy="41.7" r="4.1" fill="url(#gG)"/>
<circle cx="336.8" cy="46.8" r="4.1" fill="url(#gY)"/>
<circle cx="342.3" cy="51.6" r="4.1" fill="url(#gG)"/>
<circle cx="348.4" cy="48.2" r="4.1" fill="url(#gG)"/>
<circle cx="354.6" cy="51.6" r="4.1" fill="url(#gG)"/>
<circle cx="361.1" cy="49.6" r="4.1" fill="url(#gY)"/>
<circle cx="366.6" cy="44.8" r="4.1" fill="url(#gY)"/>
<circle cx="373" cy="43.4" r="4.1" fill="url(#gG)"/>
<circle cx="379.1" cy="42" r="4.1" fill="url(#gG)"/>
<circle cx="385.3" cy="47.5" r="4.1" fill="url(#gG)"/>
<circle cx="390.7" cy="51.6" r="4.1" fill="url(#gY)"/>
<circle cx="395.5" cy="57.7" r="4.1" fill="url(#gG)"/>
<circle cx="401.6" cy="54.3" r="4.1" fill="url(#gG)"/>
<circle cx="296.8" cy="31.8" r="3.1" fill="none" stroke="#dfe9b9" stroke-width="1.15"/>
<ellipse cx="303.7" cy="31.8" rx="3.4" ry="2.2" fill="none" stroke="#dfe9b9" stroke-width="1.15"/>
<circle cx="281" cy="53.6" r="3.1" fill="none" stroke="#dfe9b9" stroke-width="1.15"/>
<ellipse cx="287.9" cy="53.6" rx="3.4" ry="2.2" fill="none" stroke="#dfe9b9" stroke-width="1.15"/>
<circle cx="322.7" cy="57.7" r="3.1" fill="none" stroke="#dfe9b9" stroke-width="1.15"/>
<ellipse cx="329.6" cy="57.7" rx="3.4" ry="2.2" fill="none" stroke="#dfe9b9" stroke-width="1.15"/>
<circle cx="338.2" cy="35.9" r="3.1" fill="none" stroke="#dfe9b9" stroke-width="1.15"/>
<ellipse cx="345.1" cy="35.9" rx="3.4" ry="2.2" fill="none" stroke="#dfe9b9" stroke-width="1.15"/>
<circle cx="361.4" cy="35.2" r="3.1" fill="none" stroke="#dfe9b9" stroke-width="1.15"/>
<ellipse cx="368.3" cy="35.2" rx="3.4" ry="2.2" fill="none" stroke="#dfe9b9" stroke-width="1.15"/>
<circle cx="392.8" cy="41.4" r="3.1" fill="none" stroke="#dfe9b9" stroke-width="1.15"/>
<ellipse cx="399.7" cy="41.4" rx="3.4" ry="2.2" fill="none" stroke="#dfe9b9" stroke-width="1.15"/>
<circle cx="358.6" cy="59.8" r="3.1" fill="none" stroke="#dfe9b9" stroke-width="1.15"/>
<ellipse cx="365.5" cy="59.8" rx="3.4" ry="2.2" fill="none" stroke="#dfe9b9" stroke-width="1.15"/>
<circle cx="484.4" cy="28.8" r="4.1" fill="url(#gY)"/>
<circle cx="491.3" cy="29.3" r="4.1" fill="url(#gG)"/>
<circle cx="497.8" cy="27.7" r="4.1" fill="url(#gY)"/>
<circle cx="504.4" cy="25.5" r="4.1" fill="url(#gG)"/>
<circle cx="510.2" cy="22.2" r="4.1" fill="url(#gG)"/>
<circle cx="482.2" cy="36.2" r="4.1" fill="url(#gG)"/>
<circle cx="479.5" cy="43" r="4.1" fill="url(#gG)"/>
<circle cx="477.5" cy="50.5" r="4.1" fill="url(#gG)"/>
<circle cx="475.5" cy="57.8" r="4.1" fill="url(#gG)"/>
<circle cx="484.7" cy="57.8" r="4.1" fill="url(#gY)"/>
<circle cx="493.2" cy="49.3" r="4.1" fill="url(#gY)"/>
<circle cx="495.5" cy="56.2" r="4.1" fill="url(#gG)"/>
<circle cx="500.2" cy="61.6" r="4.1" fill="url(#gG)"/>
<circle cx="504.8" cy="67.8" r="4.1" fill="url(#gG)"/>
<circle cx="512.6" cy="64.7" r="4.1" fill="url(#gY)"/>
<circle cx="519.5" cy="65.5" r="4.1" fill="url(#gY)"/>
<circle cx="522.6" cy="58.5" r="4.1" fill="url(#gG)"/>
<circle cx="524.1" cy="50" r="4.1" fill="url(#gG)"/>
<circle cx="526.5" cy="42.3" r="4.1" fill="url(#gG)"/>
<circle cx="524.1" cy="35.4" r="4.1" fill="url(#gY)"/>
<circle cx="517.5" cy="36.2" r="4.1" fill="url(#gG)"/>
<circle cx="513.4" cy="42" r="4.1" fill="url(#gG)"/>
<circle cx="479.8" cy="17.3" r="3.1" fill="none" stroke="#dfe9b9" stroke-width="1.15"/>
<ellipse cx="486.7" cy="17.3" rx="3.4" ry="2.2" fill="none" stroke="#dfe9b9" stroke-width="1.15"/>
<circle cx="495.4" cy="16.5" r="3.1" fill="none" stroke="#dfe9b9" stroke-width="1.15"/>
<ellipse cx="502.3" cy="16.5" rx="3.4" ry="2.2" fill="none" stroke="#dfe9b9" stroke-width="1.15"/>
<circle cx="527.1" cy="24.7" r="3.1" fill="none" stroke="#dfe9b9" stroke-width="1.15"/>
<ellipse cx="534" cy="24.7" rx="3.4" ry="2.2" fill="none" stroke="#dfe9b9" stroke-width="1.15"/>
<circle cx="494.6" cy="37.8" r="3.1" fill="none" stroke="#dfe9b9" stroke-width="1.15"/>
<ellipse cx="501.5" cy="37.8" rx="3.4" ry="2.2" fill="none" stroke="#dfe9b9" stroke-width="1.15"/>
<circle cx="507.1" cy="54.7" r="3.1" fill="none" stroke="#dfe9b9" stroke-width="1.15"/>
<ellipse cx="514" cy="54.7" rx="3.4" ry="2.2" fill="none" stroke="#dfe9b9" stroke-width="1.15"/>
<circle cx="482.4" cy="70.1" r="3.1" fill="none" stroke="#dfe9b9" stroke-width="1.15"/>
<ellipse cx="489.3" cy="70.1" rx="3.4" ry="2.2" fill="none" stroke="#dfe9b9" stroke-width="1.15"/>
<circle cx="516.4" cy="75.5" r="3.1" fill="none" stroke="#dfe9b9" stroke-width="1.15"/>
<ellipse cx="523.3" cy="75.5" rx="3.4" ry="2.2" fill="none" stroke="#dfe9b9" stroke-width="1.15"/>
<circle cx="266.5" cy="134.1" r="4.1" fill="url(#gG)"/>
<circle cx="273.8" cy="132.6" r="4.1" fill="url(#gG)"/>
<circle cx="281.1" cy="128.3" r="4.1" fill="url(#gL)"/>
<circle cx="287.6" cy="124.6" r="4.1" fill="url(#gG)"/>
<circle cx="293.2" cy="129.7" r="4.1" fill="url(#gL)"/>
<circle cx="298.5" cy="134.8" r="4.1" fill="url(#gG)"/>
<circle cx="304.4" cy="133.4" r="4.1" fill="url(#gG)"/>
<circle cx="312" cy="136" r="4.1" fill="url(#gG)"/>
<circle cx="320" cy="137" r="4.1" fill="url(#gG)"/>
<circle cx="328" cy="136" r="4.1" fill="url(#gG)"/>
<circle cx="335.1" cy="134.1" r="4.1" fill="url(#gL)"/>
<circle cx="340.9" cy="138.5" r="4.1" fill="url(#gG)"/>
<circle cx="347.5" cy="135.5" r="4.1" fill="url(#gG)"/>
<circle cx="353.3" cy="138.5" r="4.1" fill="url(#gG)"/>
<circle cx="359.1" cy="137" r="4.1" fill="url(#gL)"/>
<circle cx="364.6" cy="131.9" r="4.1" fill="url(#gL)"/>
<circle cx="371.5" cy="130.5" r="4.1" fill="url(#gG)"/>
<circle cx="377.3" cy="129" r="4.1" fill="url(#gG)"/>
<circle cx="383.1" cy="134.1" r="4.1" fill="url(#gG)"/>
<circle cx="388.9" cy="138.5" r="4.1" fill="url(#gL)"/>
<circle cx="394" cy="143.5" r="4.1" fill="url(#gG)"/>
<circle cx="399.8" cy="141.4" r="4.1" fill="url(#gG)"/>
<circle cx="294.9" cy="119.5" r="2.6" fill="none" stroke="#c9cbf1" stroke-width="1.1"/>
<path d="M298.7,117.7 c0.4,3.4 5,4 4.9,0.2 l-0.6,-3.7" fill="none" stroke="#c9cbf1" stroke-width="1.0"/>
<circle cx="298.3" cy="116.1" r="0.6" fill="#c9cbf1"/>
<circle cx="280.4" cy="139.9" r="2.6" fill="none" stroke="#c9cbf1" stroke-width="1.1"/>
<path d="M284.2,138.1 c0.4,3.4 5,4 4.9,0.2 l-0.6,-3.7" fill="none" stroke="#c9cbf1" stroke-width="1.0"/>
<circle cx="283.8" cy="136.5" r="0.6" fill="#c9cbf1"/>
<circle cx="322.5" cy="143.5" r="2.6" fill="none" stroke="#c9cbf1" stroke-width="1.1"/>
<path d="M326.3,141.7 c0.4,3.4 5,4 4.9,0.2 l-0.6,-3.7" fill="none" stroke="#c9cbf1" stroke-width="1.0"/>
<circle cx="325.9" cy="140.1" r="0.6" fill="#c9cbf1"/>
<circle cx="336.5" cy="123.9" r="2.6" fill="none" stroke="#c9cbf1" stroke-width="1.1"/>
<path d="M340.3,122.1 c0.4,3.4 5,4 4.9,0.2 l-0.6,-3.7" fill="none" stroke="#c9cbf1" stroke-width="1.0"/>
<circle cx="339.9" cy="120.5" r="0.6" fill="#c9cbf1"/>
<circle cx="359.8" cy="123.2" r="2.6" fill="none" stroke="#c9cbf1" stroke-width="1.1"/>
<path d="M363.6,121.4 c0.4,3.4 5,4 4.9,0.2 l-0.6,-3.7" fill="none" stroke="#c9cbf1" stroke-width="1.0"/>
<circle cx="363.2" cy="119.8" r="0.6" fill="#c9cbf1"/>
<circle cx="359.1" cy="145.7" r="2.6" fill="none" stroke="#c9cbf1" stroke-width="1.1"/>
<path d="M362.9,143.9 c0.4,3.4 5,4 4.9,0.2 l-0.6,-3.7" fill="none" stroke="#c9cbf1" stroke-width="1.0"/>
<circle cx="362.5" cy="142.3" r="0.6" fill="#c9cbf1"/>
<circle cx="391.1" cy="129" r="2.6" fill="none" stroke="#c9cbf1" stroke-width="1.1"/>
<path d="M394.9,127.2 c0.4,3.4 5,4 4.9,0.2 l-0.6,-3.7" fill="none" stroke="#c9cbf1" stroke-width="1.0"/>
<circle cx="394.5" cy="125.6" r="0.6" fill="#c9cbf1"/>
<circle cx="483.6" cy="123.7" r="4.1" fill="url(#gL)"/>
<circle cx="491" cy="120.5" r="4.1" fill="url(#gG)"/>
<circle cx="498.4" cy="118.8" r="4.1" fill="url(#gG)"/>
<circle cx="504.9" cy="119.6" r="4.1" fill="url(#gG)"/>
<circle cx="509.8" cy="125.4" r="4.1" fill="url(#gG)"/>
<circle cx="516.9" cy="130.3" r="4.1" fill="url(#gL)"/>
<circle cx="523.7" cy="128.6" r="4.1" fill="url(#gG)"/>
<circle cx="531.9" cy="127.8" r="4.1" fill="url(#gL)"/>
<circle cx="536.8" cy="134.4" r="4.1" fill="url(#gG)"/>
<circle cx="536.8" cy="140.9" r="4.1" fill="url(#gG)"/>
<circle cx="533.6" cy="146.6" r="4.1" fill="url(#gG)"/>
<circle cx="526.2" cy="146.6" r="4.1" fill="url(#gL)"/>
<circle cx="521.3" cy="151.6" r="4.1" fill="url(#gL)"/>
<circle cx="474.6" cy="134.4" r="4.1" fill="url(#gG)"/>
<circle cx="476" cy="141" r="4.1" fill="url(#gG)"/>
<circle cx="480" cy="147" r="4.1" fill="url(#gG)"/>
<circle cx="490" cy="150" r="4.1" fill="url(#gG)"/>
<circle cx="499.2" cy="149.1" r="4.1" fill="url(#gG)"/>
<circle cx="513.9" cy="140.1" r="4.1" fill="url(#gG)"/>
<circle cx="518.8" cy="144.2" r="4.1" fill="url(#gG)"/>
<circle cx="508" cy="138" r="4.1" fill="url(#gG)"/>
<circle cx="485.3" cy="113.1" r="2.6" fill="none" stroke="#c9cbf1" stroke-width="1.1"/>
<path d="M489.1,111.3 c0.4,3.4 5,4 4.9,0.2 l-0.6,-3.7" fill="none" stroke="#c9cbf1" stroke-width="1.0"/>
<circle cx="488.7" cy="109.7" r="0.6" fill="#c9cbf1"/>
<circle cx="516.4" cy="119.6" r="2.6" fill="none" stroke="#c9cbf1" stroke-width="1.1"/>
<path d="M520.2,117.8 c0.4,3.4 5,4 4.9,0.2 l-0.6,-3.7" fill="none" stroke="#c9cbf1" stroke-width="1.0"/>
<circle cx="519.8" cy="116.2" r="0.6" fill="#c9cbf1"/>
<circle cx="533.6" cy="118" r="2.6" fill="none" stroke="#c9cbf1" stroke-width="1.1"/>
<path d="M537.4,116.2 c0.4,3.4 5,4 4.9,0.2 l-0.6,-3.7" fill="none" stroke="#c9cbf1" stroke-width="1.0"/>
<circle cx="537" cy="114.6" r="0.6" fill="#c9cbf1"/>
<circle cx="495.9" cy="129.5" r="2.6" fill="none" stroke="#c9cbf1" stroke-width="1.1"/>
<path d="M499.7,127.7 c0.4,3.4 5,4 4.9,0.2 l-0.6,-3.7" fill="none" stroke="#c9cbf1" stroke-width="1.0"/>
<circle cx="499.3" cy="126.1" r="0.6" fill="#c9cbf1"/>
<circle cx="523.7" cy="138.5" r="2.6" fill="none" stroke="#c9cbf1" stroke-width="1.1"/>
<path d="M527.5,136.7 c0.4,3.4 5,4 4.9,0.2 l-0.6,-3.7" fill="none" stroke="#c9cbf1" stroke-width="1.0"/>
<circle cx="527.1" cy="135.1" r="0.6" fill="#c9cbf1"/>
<circle cx="479.5" cy="150.7" r="2.6" fill="none" stroke="#c9cbf1" stroke-width="1.1"/>
<path d="M483.3,148.9 c0.4,3.4 5,4 4.9,0.2 l-0.6,-3.7" fill="none" stroke="#c9cbf1" stroke-width="1.0"/>
<circle cx="482.9" cy="147.3" r="0.6" fill="#c9cbf1"/>
<circle cx="520.5" cy="160.6" r="2.6" fill="none" stroke="#c9cbf1" stroke-width="1.1"/>
<path d="M524.3,158.8 c0.4,3.4 5,4 4.9,0.2 l-0.6,-3.7" fill="none" stroke="#c9cbf1" stroke-width="1.0"/>
<circle cx="523.9" cy="157.2" r="0.6" fill="#c9cbf1"/>
</g>
<text x="308.1" y="54.1" font-size="18.5" text-anchor="start" fill="#0a0a0a" font-family="'Liberation Sans', Arial, sans-serif" stroke="#0a0a0a" stroke-width="0.5" textLength="20.6" lengthAdjust="spacingAndGlyphs">SP</text>
<text x="472.6" y="53.6" font-size="18.7" text-anchor="start" fill="#0a0a0a" font-family="'Liberation Sans', Arial, sans-serif" stroke="#0a0a0a" stroke-width="0.5" textLength="20.6" lengthAdjust="spacingAndGlyphs">SP</text>
<text x="307.1" y="141.3" font-size="18.2" text-anchor="start" fill="#0a0a0a" font-family="'Liberation Sans', Arial, sans-serif" stroke="#0a0a0a" stroke-width="0.5" textLength="29.9" lengthAdjust="spacingAndGlyphs">MC</text>
<text x="478.8" y="144.6" font-size="18.4" text-anchor="start" fill="#0a0a0a" font-family="'Liberation Sans', Arial, sans-serif" stroke="#0a0a0a" stroke-width="0.5" textLength="29.9" lengthAdjust="spacingAndGlyphs">MC</text>
<text x="306.6" y="92" font-size="10.0" text-anchor="start" fill="#2a2a2a" font-family="'Liberation Sans', Arial, sans-serif" stroke="#2a2a2a" stroke-width="0.3" textLength="14.1" lengthAdjust="spacingAndGlyphs">Vis</text>
<text x="341.4" y="91.3" font-size="10.0" text-anchor="start" fill="#2a2a2a" font-family="'Liberation Sans', Arial, sans-serif" stroke="#2a2a2a" stroke-width="0.3" textLength="14.2" lengthAdjust="spacingAndGlyphs">UV</text>
<g transform="translate(425.3,37) rotate(-46.19)">
<rect x="0" y="-1.75" width="20.37" height="3.5" rx="1.7" fill="#3c3c3c"/>
<rect x="0.8" y="-0.9" width="17.17" height="1.8" rx="0.9" fill="#f4f4f4"/>
<rect x="0.8" y="-0.9" width="15.45" height="1.8" rx="0.9" fill="#ee1c2e"/>
</g>
<path d="M419.2,43.9 H445.8 l-4.6,-3.6" fill="none" stroke="#111" stroke-width="1.2"/>
<path d="M445.8,47.5 H419.2 l4.6,4.0" fill="none" stroke="#111" stroke-width="1.2"/>
<g transform="translate(425.6,66.2) rotate(-46.55)">
<rect x="0" y="-1.75" width="20.94" height="3.5" rx="1.7" fill="#3c3c3c"/>
<rect x="0.8" y="-0.9" width="17.74" height="1.8" rx="0.9" fill="#f4f4f4"/>
<rect x="0.8" y="-0.9" width="7.98" height="1.8" rx="0.9" fill="#4545e0"/>
<line x1="10.08" y1="-0.8" x2="10.08" y2="0.8" stroke="#888" stroke-width="0.6"/>
<line x1="12.28" y1="-0.8" x2="12.28" y2="0.8" stroke="#888" stroke-width="0.6"/>
<line x1="14.48" y1="-0.8" x2="14.48" y2="0.8" stroke="#888" stroke-width="0.6"/>
<line x1="16.68" y1="-0.8" x2="16.68" y2="0.8" stroke="#888" stroke-width="0.6"/>
</g>
<g transform="translate(426.1,129.5) rotate(-48.6)">
<rect x="0" y="-1.75" width="20.26" height="3.5" rx="1.7" fill="#3c3c3c"/>
<rect x="0.8" y="-0.9" width="17.06" height="1.8" rx="0.9" fill="#f4f4f4"/>
<rect x="0.8" y="-0.9" width="13.31" height="1.8" rx="0.9" fill="#ee1c2e"/>
</g>
<path d="M419.8,133.9 H445.8 l-4.6,-3.6" fill="none" stroke="#111" stroke-width="1.2"/>
<path d="M445.8,137.7 H419.8 l4.6,4.0" fill="none" stroke="#111" stroke-width="1.2"/>
<g transform="translate(425.8,158.1) rotate(-50.37)">
<rect x="0" y="-1.75" width="20.38" height="3.5" rx="1.7" fill="#3c3c3c"/>
<rect x="0.8" y="-0.9" width="17.18" height="1.8" rx="0.9" fill="#f4f4f4"/>
<rect x="0.8" y="-0.9" width="6.53" height="1.8" rx="0.9" fill="#4545e0"/>
<line x1="8.63" y1="-0.8" x2="8.63" y2="0.8" stroke="#888" stroke-width="0.6"/>
<line x1="10.83" y1="-0.8" x2="10.83" y2="0.8" stroke="#888" stroke-width="0.6"/>
<line x1="13.03" y1="-0.8" x2="13.03" y2="0.8" stroke="#888" stroke-width="0.6"/>
<line x1="15.23" y1="-0.8" x2="15.23" y2="0.8" stroke="#888" stroke-width="0.6"/>
</g>
<path d="M326.6,100.7 V76.4 l-3.4,3.2" fill="none" stroke="#111" stroke-width="1.5"/>
<path d="M330.6,75.6 V101 l3.6,-4" fill="none" stroke="#111" stroke-width="1.5"/>
<line x1="430.8" y1="78.2" x2="430.8" y2="99.6" stroke="#111" stroke-width="1.6"/>
<line x1="436.3" y1="78.2" x2="436.3" y2="99.6" stroke="#111" stroke-width="1.6"/>
<line x1="426.3" y1="83.5" x2="441.4" y2="95.1" stroke="#e8001c" stroke-width="2.4" stroke-linecap="round"/>
<g transform="translate(291.25,76.3)">
<path d="M-2.8,16 C-3.4,13 -7,10.5 -7,6.3 C-7,2.6 -3.9,0 0,0 C3.9,0 7,2.6 7,6.3 C7,10.5 3.4,13 2.8,16 Z" fill="#1e9e40" stroke="#141414" stroke-width="1.0"/>
<path d="M-1.1,10.2 L-1.5,16 M1.1,10.2 L1.5,16" stroke="#0b3a17" stroke-width="0.7" fill="none"/>
<ellipse cx="0" cy="9.3" rx="1.7" ry="1.9" fill="#0b3a17"/>
<path d="M-2.7,16 L-2.7,18.6 Q-2.5,21 0,21 Q2.5,21 2.7,18.6 L2.7,16 Z" fill="#4a4a4a" stroke="#222" stroke-width="0.5"/>
<path d="M-2.6,17.6 H2.6 M-2.4,19.2 H2.4" stroke="#777" stroke-width="0.45"/>
</g>
<g transform="translate(375.9,78.9)">
<path d="M-2.8,16 C-3.4,13 -7,10.5 -7,6.3 C-7,2.6 -3.9,0 0,0 C3.9,0 7,2.6 7,6.3 C7,10.5 3.4,13 2.8,16 Z" fill="#3333c8" stroke="#141414" stroke-width="1.0"/>
<path d="M-1.1,10.2 L-1.5,16 M1.1,10.2 L1.5,16" stroke="#0e0e48" stroke-width="0.7" fill="none"/>
<ellipse cx="0" cy="9.3" rx="1.7" ry="1.9" fill="#0e0e48"/>
<path d="M-2.7,16 L-2.7,18.6 Q-2.5,21 0,21 Q2.5,21 2.7,18.6 L2.7,16 Z" fill="#4a4a4a" stroke="#222" stroke-width="0.5"/>
<path d="M-2.6,17.6 H2.6 M-2.4,19.2 H2.4" stroke="#777" stroke-width="0.45"/>
</g>
<text x="394.1" y="198.4" font-size="15.2" text-anchor="middle" fill="#111" font-family="'Liberation Serif', 'Times New Roman', serif" font-weight="bold">(b)</text>
<g clip-path="url(#clipC)">
<polyline points="37.15,277.33 37.59,278.79 38.02,280.26 38.46,281.91 38.9,283.47 39.33,285.17 39.77,286.97 40.2,288.25 40.64,288.81 41.08,289.26 41.51,290.86 41.95,292.66 42.39,293.85 42.82,295.03 43.26,296.04 43.69,296.62 44.13,297.16 44.57,297.84 45,298.5 45.44,299.36 45.88,299.92 46.31,300.23 46.75,301.15 47.18,302.28 47.62,302.88 48.06,302.99 48.49,303.39 48.93,304.47 49.37,305.17 49.8,305.59 50.24,306.45 50.67,306.95 51.11,307.07 51.55,307.59 51.98,308.17 52.42,309 52.86,309.65 53.29,309.34 53.73,309.47 54.16,309.69 54.6,309.06 55.04,308.75 55.47,309.12 55.91,309.28 56.34,308.98 56.78,308.52 57.22,308.1 57.65,308.1 58.09,308.19 58.53,308.13 58.96,308.47 59.4,308.6 59.84,308.14 60.27,307.94 60.71,308.21 61.14,308.27 61.58,308.38 62.02,308.49 62.45,307.81 62.89,307.6 63.33,307.95 63.76,307.78 64.2,307.42 64.63,307.34 65.07,307.65 65.51,307.31 65.94,306.35 66.38,306.32 66.81,306.91 67.25,306.61 67.69,306.05 68.12,305.7 68.56,305.44 69,305.6 69.43,305.64 69.87,305.32 70.31,304.85 70.74,304.87 71.18,305.35 71.61,305.19 72.05,304.34 72.49,303.98 72.92,303.98 73.36,303.9 73.8,304.17 74.23,304.58 74.67,304.71 75.1,304.3 75.54,303.96 75.98,304.32 76.41,304.38 76.85,303.98 77.28,303.62 77.72,303.64 78.16,304.2 78.59,304.29 79.03,303.51 79.47,302.81 79.9,302.76 80.34,303.02 80.78,303.1 81.21,303 81.65,302.83 82.08,302.77 82.52,302.92 82.96,302.87 83.39,302.66 83.83,302.51 84.27,302.11 84.7,301.61 85.14,301.7 85.57,302.65 86.01,303.78 86.45,304.11 86.88,304 87.32,304.42 87.75,304.87 88.19,304.53 88.63,304.75 89.06,305.9 89.5,306.6 89.94,306.81 90.37,306.9 90.81,306.87 91.25,307.33 91.68,308.41 92.12,309.35 92.55,309.95 92.99,310.5 93.43,311.25 93.86,312.35 94.3,313.65 94.73,314.61 95.17,315.02 95.61,315.23 96.04,316.02 96.48,317.23 96.92,317.98 97.35,318.57 97.79,319.49 98.22,320.15 98.66,319.97 99.1,320.08 99.53,321.23 99.97,322.4 100.41,323.17 100.84,323.5 101.28,323.32 101.72,323.5 102.15,324.12 102.59,324.63 103.02,325.08 103.46,325.83 103.9,326.64 104.33,326.89 104.77,327.1 105.2,327.66 105.64,328.18 106.08,328.56 106.51,328.66 106.95,328.79 107.39,329.37 107.82,329.72 108.26,329.78 108.69,329.89 109.13,330.59 109.57,331.6 110,331.88 110.44,332.15 110.88,332.47 111.31,332.51 111.75,332.73 112.19,333.25 112.62,333.7 113.06,334.05 113.49,334.76 113.93,335.19 114.37,335.38 114.8,335.48 115.24,335.23 115.67,335.19 116.11,335.57 116.55,336.38 116.98,336.97 117.42,336.94 117.86,337.06 118.29,337.42 118.73,337.56 119.16,337.42 119.6,337.47 120.04,337.82 120.47,338.06 120.91,338.52 121.35,339 121.78,339.17 122.22,339.19 122.66,338.79 123.09,338.53 123.53,338.71 123.96,338.64 124.4,338.56 124.84,338.96 125.27,339.39 125.71,339.87 126.14,340.09 126.58,340.04 127.02,340.16 127.45,339.97 127.89,339.68 128.33,339.68 128.76,340.08 129.2,340.4 129.63,340.35 130.07,340.45 130.51,340.49 130.94,340.43 131.38,340.51 131.82,340.7 132.25,340.86 132.69,341.12 133.12,341.36 133.56,341.24 134,340.9 134.43,340.31 134.87,340.44 135.31,341.17 135.74,341.09 136.18,341.01 136.62,341.13 137.05,340.95 137.49,341.27 137.92,341.65 138.36,341.38 138.8,341.08 139.23,341.24 139.67,341.37 140.1,341 140.54,341 140.98,341.57 141.41,341.67 141.85,341.53 142.29,341.26 142.72,340.88 143.16,341.27 143.59,341.95 144.03,342.03 144.47,341.42 144.9,341 145.34,341.45 145.78,341.77 146.21,341.75 146.65,341.56 147.08,341.43 147.52,341.84 147.96,342.06 148.39,342.05 148.83,342.37 149.27,342.48 149.7,342.19 150.14,342.38 150.57,342.89 151.01,343.23 151.45,343.18 151.88,342.72 152.32,342.48 152.76,342.48 153.19,342.52 153.63,342.79 154.06,343.04 154.5,342.99 154.94,343.11 155.37,343.3 155.81,343.1 156.25,343.01 156.68,343.41 157.12,343.65 157.56,343.23 157.99,343.05 158.43,343.57 158.86,343.92 159.3,343.72 159.74,343.81 160.17,344.26 160.61,343.93 161.05,343.65 161.48,343.82 161.92,343.58 162.35,343.72 162.79,344.15 163.23,344.41 163.66,344.74 164.1,344.35 164.53,343.89 164.97,344 165.41,343.92 165.84,343.98 166.28,344.17 166.72,344.75 167.15,345.46 167.59,345.23 168.02,344.99 168.46,345.42 168.9,345.5 169.33,345.21 169.77,345.51 170.21,345.94 170.64,345.59 171.08,345.21 171.51,345.23 171.95,344.96 172.39,344.85 172.82,345.51 173.26,346.24 173.7,346.34 174.13,345.85 174.57,345.51 175,345.58 175.44,345.81 175.88,346.04 176.31,346.15 176.75,346.32 177.19,346.62 177.62,347.03 178.06,347.17 178.5,347.02 178.93,347.08 179.37,346.92 179.8,346.55 180.24,346.09 180.68,345.6 181.11,346.08 181.55,346.75 181.99,346.66 182.42,346.79 182.86,346.96 183.29,346.9 183.73,347.66 184.17,348.14 184.6,347.51 185.04,347.04 185.47,346.97 185.91,347.46 186.35,347.59 186.78,347.24 187.22,347.49 187.66,347.34 188.09,346.97 188.53,347.28 188.96,347.58 189.4,347.47 189.84,347.5 190.27,347.73 190.71,347.58 191.15,347.1 191.58,347 192.02,347.73 192.45,348.13 192.89,347.9 193.33,347.92 193.76,347.94 194.2,347.74 194.64,347.76 195.07,348.14 195.51,348.7 195.94,349.18 196.38,348.67 196.82,347.99 197.25,348.36 197.69,348.85 198.13,348.76 198.56,348.35 199,348.44 199.44,348.69 199.87,348.39 200.31,348.17 200.74,348.34 201.18,348.36 201.62,348.05 202.05,348.22 202.49,348.71 202.93,348.92 203.36,348.74 203.8,348.55 204.23,348.55 204.67,348.4 205.11,348.24 205.54,348.19 205.98,348.42 206.41,349.14 206.85,349.56 207.29,349.09 207.72,348.69 208.16,348.79 208.6,348.96 209.03,349.26 209.47,349.52 209.9,349.34 210.34,348.9 210.78,349.06 211.21,349.65 211.65,349.87 212.09,349.38 212.52,348.85 212.96,349.14 213.39,349.37 213.83,348.88 214.27,348.63 214.7,348.84 215.14,348.95 215.58,348.99 216.01,349.12 216.45,349.44 216.88,349.57 217.32,349.31 217.76,349.08 218.19,349.4 218.63,350.03 219.07,349.78 219.5,349.48 219.94,349.77 220.38,349.71 220.81,349.53 221.25,349.75 221.68,350.12 222.12,350.01 222.56,349.54 222.99,349.48 223.43,349.87 223.86,350.08 224.3,349.93 224.74,350.01 225.17,350.64 225.61,350.86 226.05,350.66 226.48,350.77 226.92,350.71 227.35,350.37 227.79,350.41 228.23,350.57 228.66,350.66 229.1,350.85 229.54,350.63" fill="none" stroke="#65a41d" stroke-width="1.45" stroke-linejoin="round" stroke-linecap="round" />
<polyline points="37.15,272.94 37.59,274.32 38.02,275.67 38.46,277.18 38.9,278.74 39.33,279.8 39.77,280.76 40.2,282.01 40.64,283.12 41.08,284.23 41.51,285.8 41.95,287.2 42.39,288.04 42.82,288.65 43.26,289.51 43.69,290.77 44.13,292.26 44.57,293.31 45,294.04 45.44,294.88 45.88,295.43 46.31,296.21 46.75,297.29 47.18,297.97 47.62,298.14 48.06,297.89 48.49,298.28 48.93,299.61 49.37,300.99 49.8,301.85 50.24,301.85 50.67,302.06 51.11,302.46 51.55,302.66 51.98,303.17 52.42,303.27 52.86,303.35 53.29,303.58 53.73,303.19 54.16,303.3 54.6,304.24 55.04,304.41 55.47,303.88 55.91,304.03 56.34,304.47 56.78,304.37 57.22,304.2 57.65,304.04 58.09,303.81 58.53,303.56 58.96,303.22 59.4,303.22 59.84,303.44 60.27,303.34 60.71,303.24 61.14,303.71 61.58,304.07 62.02,303.74 62.45,303.3 62.89,303.08 63.33,303.19 63.76,303.25 64.2,302.87 64.63,302.56 65.07,302.78 65.51,302.94 65.94,302.76 66.38,302.63 66.81,302.38 67.25,302.09 67.69,301.51 68.12,301.08 68.56,301.33 69,301.43 69.43,301.08 69.87,300.95 70.31,301.18 70.74,301.02 71.18,300.37 71.61,299.91 72.05,299.85 72.49,299.93 72.92,299.65 73.36,298.81 73.8,298.21 74.23,298.28 74.67,298.32 75.1,298.38 75.54,298.65 75.98,298.64 76.41,298.43 76.85,298.31 77.28,298.59 77.72,298.71 78.16,298.04 78.59,297.83 79.03,298.38 79.47,298.57 79.9,298.45 80.34,298.73 80.78,298.9 81.21,298.55 81.65,298.38 82.08,298.26 82.52,298.37 82.96,298.62 83.39,298.35 83.83,298.19 84.27,298.53 84.7,298.76 85.14,299.14 85.57,299.35 86.01,298.96 86.45,299.14 86.88,299.6 87.32,300.02 87.75,300.8 88.19,300.96 88.63,300.74 89.06,301.72 89.5,303.69 89.94,304.75 90.37,304.25 90.81,303.88 91.25,304.55 91.68,305.14 92.12,305.65 92.55,306.45 92.99,306.85 93.43,307.17 93.86,307.89 94.3,308.9 94.73,309.91 95.17,310.76 95.61,311.52 96.04,311.74 96.48,312.42 96.92,314.44 97.35,316.03 97.79,316.31 98.22,316.36 98.66,316.71 99.1,317.61 99.53,318.93 99.97,319.49 100.41,319.73 100.84,320.35 101.28,320.74 101.72,321.13 102.15,321.49 102.59,321.77 103.02,322.19 103.46,322.9 103.9,323.71 104.33,324.01 104.77,324.2 105.2,324.33 105.64,324.56 106.08,325.34 106.51,326.09 106.95,326.41 107.39,326.37 107.82,326.49 108.26,326.78 108.69,326.78 109.13,327.09 109.57,327.88 110,328.32 110.44,328.11 110.88,328.33 111.31,328.84 111.75,328.37 112.19,328.14 112.62,328.72 113.06,328.76 113.49,328.44 113.93,329.06 114.37,330.01 114.8,330.2 115.24,330.16 115.67,330.64 116.11,330.93 116.55,330.51 116.98,330.37 117.42,330.44 117.86,330.27 118.29,330.22 118.73,330.6 119.16,330.79 119.6,330.29 120.04,330.09 120.47,330.29 120.91,330.23 121.35,330.5 121.78,330.65 122.22,330.51 122.66,330.68 123.09,330.74 123.53,330.81 123.96,331.06 124.4,331.44 124.84,331.28 125.27,330.7 125.71,330.71 126.14,331.02 126.58,331.07 127.02,331.17 127.45,331.63 127.89,331.69 128.33,331.42 128.76,331.46 129.2,331.42 129.63,331.18 130.07,331.11 130.51,330.81 130.94,330.27 131.38,330.13 131.82,330.39 132.25,330.89 132.69,331.45 133.12,331.68 133.56,331.77 134,331.92 134.43,331.45 134.87,330.55 135.31,330.12 135.74,330.53 136.18,331.06 136.62,331.13 137.05,331.06 137.49,330.87 137.92,330.75 138.36,330.26 138.8,329.77 139.23,329.8 139.67,329.97 140.1,330.59 140.54,330.86 140.98,330.28 141.41,330.25 141.85,330.9 142.29,331.41 142.72,331.71 143.16,331.46 143.59,331.16 144.03,331.54 144.47,332.19 144.9,332.4 145.34,331.96 145.78,331.64 146.21,331.82 146.65,332.37 147.08,332.55 147.52,332.18 147.96,332.43 148.39,332.75 148.83,333.09 149.27,333.72 149.7,333.63 150.14,333.31 150.57,333.09 151.01,332.93 151.45,333.61 151.88,334.45 152.32,334.35 152.76,334.02 153.19,334.33 153.63,335.04 154.06,335.17 154.5,334.6 154.94,334.47 155.37,335.07 155.81,335.25 156.25,335.27 156.68,335.99 157.12,335.6 157.56,334.8 157.99,335.22 158.43,335.87 158.86,335.98 159.3,335.92 159.74,336.27 160.17,336.34 160.61,336.44 161.05,336.66 161.48,336.72 161.92,337.19 162.35,337.34 162.79,337.17 163.23,337.15 163.66,336.95 164.1,336.97 164.53,337.49 164.97,337.91 165.41,338.04 165.84,337.9 166.28,337.75 166.72,337.92 167.15,338.09 167.59,338.41 168.02,338.59 168.46,338.57 168.9,338.88 169.33,338.69 169.77,338.56 170.21,339.15 170.64,339.63 171.08,339.91 171.51,340.09 171.95,340.16 172.39,340.07 172.82,339.92 173.26,339.56 173.7,339.26 174.13,339.51 174.57,339.84 175,340.18 175.44,340.6 175.88,341.13 176.31,341.36 176.75,340.7 177.19,340.12 177.62,340.55 178.06,340.84 178.5,340.72 178.93,341.22 179.37,341.87 179.8,342.17 180.24,342.16 180.68,341.55 181.11,341.1 181.55,341.73 181.99,342.42 182.42,342.43 182.86,342.56 183.29,342.76 183.73,342.32 184.17,341.91 184.6,341.95 185.04,342.3 185.47,343.05 185.91,343.05 186.35,342.13 186.78,342.18 187.22,342.89 187.66,342.81 188.09,342.51 188.53,342.45 188.96,342.65 189.4,342.87 189.84,342.79 190.27,342.75 190.71,343.19 191.15,344.11 191.58,344.48 192.02,344.08 192.45,343.68 192.89,343.1 193.33,342.71 193.76,342.93 194.2,343.19 194.64,342.98 195.07,342.87 195.51,343.09 195.94,342.9 196.38,342.79 196.82,342.81 197.25,342.87 197.69,343.17 198.13,343.33 198.56,343.7 199,344.06 199.44,343.89 199.87,343.68 200.31,343.76 200.74,343.89 201.18,343.78 201.62,343.09 202.05,342.74 202.49,342.96 202.93,342.97 203.36,342.84 203.8,342.87 204.23,343.65 204.67,344.11 205.11,343.63 205.54,343.86 205.98,344.44 206.41,344.67 206.85,344.72 207.29,344.57 207.72,344.2 208.16,343.63 208.6,343.91 209.03,344.9 209.47,345.13 209.9,345.04 210.34,345.06 210.78,344.67 211.21,344.49 211.65,344.73 212.09,344.62 212.52,344.07 212.96,343.57 213.39,343.68 213.83,344.07 214.27,344.36 214.7,344.61 215.14,344.76 215.58,344.77 216.01,344.8 216.45,345.18 216.88,345.3 217.32,344.84 217.76,344.85 218.19,345.34 218.63,345.28 219.07,344.89 219.5,344.96 219.94,345.19 220.38,345.14 220.81,344.84 221.25,344.49 221.68,344.86 222.12,345.88 222.56,346.15 222.99,345.32 223.43,344.73 223.86,344.8 224.3,345 224.74,345.55 225.17,345.77 225.61,345.31 226.05,345.09 226.48,345.4 226.92,345.79 227.35,345.77 227.79,345.55 228.23,345.47 228.66,345.74 229.1,346.03 229.54,345.95" fill="none" stroke="#fbc00a" stroke-width="1.45" stroke-linejoin="round" stroke-linecap="round" />
<polyline points="37.15,239.75 37.59,241 38.02,242.24 38.46,244.25 38.9,245.02 39.33,245.88 39.77,247.7 40.2,248.86 40.64,249.12 41.08,250.03 41.51,251.43 41.95,252.47 42.39,253.38 42.82,254.61 43.26,255.74 43.69,256.69 44.13,257.79 44.57,259.2 45,260.69 45.44,261.94 45.88,263.55 46.31,264.76 46.75,265.3 47.18,266.2 47.62,267.26 48.06,268.06 48.49,268.57 48.93,269.87 49.37,271.34 49.8,271.8 50.24,272.47 50.67,273.59 51.11,273.89 51.55,274.05 51.98,275.23 52.42,276.74 52.86,277.61 53.29,278.22 53.73,279.51 54.16,280.36 54.6,280.04 55.04,279.38 55.47,278.84 55.91,279.33 56.34,280.32 56.78,280.42 57.22,280.18 57.65,280.45 58.09,280.63 58.53,280.45 58.96,280.38 59.4,280.44 59.84,280.28 60.27,279.81 60.71,280.18 61.14,280.68 61.58,280.21 62.02,280.19 62.45,280.69 62.89,281.1 63.33,281.13 63.76,280.99 64.2,280.9 64.63,280.63 65.07,280.84 65.51,281.28 65.94,280.95 66.38,280.28 66.81,280.17 67.25,280.4 67.69,280.37 68.12,280.29 68.56,280.48 69,279.95 69.43,279.01 69.87,278.92 70.31,279.09 70.74,278.73 71.18,277.79 71.61,277.44 72.05,277.87 72.49,278.11 72.92,277.83 73.36,277.1 73.8,277.16 74.23,277.49 74.67,277.05 75.1,276.85 75.54,276.89 75.98,276.99 76.41,277.27 76.85,277.08 77.28,276.61 77.72,276.74 78.16,276.54 78.59,275.89 79.03,276.2 79.47,276.78 79.9,276.59 80.34,275.96 80.78,275.7 81.21,275.83 81.65,276.26 82.08,276.94 82.52,277.07 82.96,276.89 83.39,276.75 83.83,277.11 84.27,277.13 84.7,276.5 85.14,276.98 85.57,277.39 86.01,277.16 86.45,277.43 86.88,278.6 87.32,279.96 87.75,279.83 88.19,279.41 88.63,280.2 89.06,281.4 89.5,281.83 89.94,281.45 90.37,282.02 90.81,283.35 91.25,284.11 91.68,284.95 92.12,286 92.55,286.56 92.99,286.9 93.43,287.31 93.86,288.04 94.3,289.34 94.73,290.49 95.17,291.32 95.61,292.58 96.04,293.44 96.48,293.77 96.92,294.68 97.35,295.58 97.79,296.53 98.22,297.68 98.66,298.26 99.1,298.96 99.53,299.95 99.97,300.91 100.41,302.39 100.84,303.65 101.28,304.11 101.72,304.42 102.15,304.74 102.59,305.55 103.02,306.63 103.46,306.99 103.9,307.05 104.33,307.64 104.77,308.55 105.2,309.33 105.64,310.04 106.08,310.45 106.51,310.75 106.95,311.27 107.39,312 107.82,313.05 108.26,314 108.69,314.26 109.13,313.76 109.57,313.15 110,313.59 110.44,314.89 110.88,315.29 111.31,314.66 111.75,314.79 112.19,315.14 112.62,314.69 113.06,314.29 113.49,314.15 113.93,314.14 114.37,314.15 114.8,314.43 115.24,314.82 115.67,314.75 116.11,314.34 116.55,314.05 116.98,314.45 117.42,314.44 117.86,313.38 118.29,312.51 118.73,312.2 119.16,312.66 119.6,313.46 120.04,313.47 120.47,312.98 120.91,313.02 121.35,313.19 121.78,312.51 122.22,312.03 122.66,312.06 123.09,311.45 123.53,310.82 123.96,310.65 124.4,310.26 124.84,309.97 125.27,310.01 125.71,310.08 126.14,309.85 126.58,309.48 127.02,309.69 127.45,309.64 127.89,309.21 128.33,309.09 128.76,308.61 129.2,308.16 129.63,308.28 130.07,308.17 130.51,307.73 130.94,307.97 131.38,308.78 131.82,308.49 132.25,307.44 132.69,307.67 133.12,308.62 133.56,308.44 134,307.83 134.43,307.56 134.87,307.15 135.31,306.83 135.74,306.99 136.18,307.13 136.62,306.38 137.05,305.94 137.49,306.28 137.92,305.96 138.36,305.65 138.8,305.91 139.23,306.41 139.67,306.87 140.1,306.58 140.54,305.77 140.98,305.3 141.41,305.24 141.85,305.39 142.29,305.84 142.72,306.7 143.16,307.15 143.59,306.85 144.03,306.71 144.47,307.34 144.9,308.08 145.34,308.39 145.78,308.46 146.21,308.47 146.65,308.71 147.08,308.78 147.52,308.75 147.96,308.8 148.39,309.19 148.83,310.53 149.27,311.21 149.7,310.44 150.14,310 150.57,310.53 151.01,311.37 151.45,312.06 151.88,312.97 152.32,314.02 152.76,314.35 153.19,314.55 153.63,314.84 154.06,315.32 154.5,316.56 154.94,317.05 155.37,317.07 155.81,318.06 156.25,319.15 156.68,319.68 157.12,319.46 157.56,319.07 157.99,319.48 158.43,320.31 158.86,320.86 159.3,321.1 159.74,321.77 160.17,322.69 160.61,323.02 161.05,322.9 161.48,323.07 161.92,323.71 162.35,323.87 162.79,324.14 163.23,325.51 163.66,326.24 164.1,325.95 164.53,326.23 164.97,326.88 165.41,327.36 165.84,327.75 166.28,328.08 166.72,328.4 167.15,328.89 167.59,329.76 168.02,330.19 168.46,330.2 168.9,330.36 169.33,330.48 169.77,330.96 170.21,331.48 170.64,331.73 171.08,332.4 171.51,333.19 171.95,333.45 172.39,333.45 172.82,333.41 173.26,333.22 173.7,333.11 174.13,333.1 174.57,333.02 175,333.51 175.44,334.06 175.88,333.92 176.31,334.27 176.75,335.07 177.19,335.12 177.62,335 178.06,335.22 178.5,335.38 178.93,335.58 179.37,335.96 179.8,336.34 180.24,336.58 180.68,336.69 181.11,337.05 181.55,337.54 181.99,337.16 182.42,336.65 182.86,337 183.29,337.41 183.73,337.73 184.17,338.31 184.6,338.62 185.04,338.51 185.47,338.23 185.91,338.23 186.35,338.5 186.78,338.75 187.22,339.38 187.66,339.55 188.09,338.95 188.53,338.79 188.96,339.7 189.4,340.28 189.84,339.74 190.27,339.73 190.71,340.35 191.15,340.59 191.58,340.39 192.02,339.98 192.45,340.13 192.89,340.22 193.33,339.7 193.76,340.05 194.2,340.55 194.64,340.4 195.07,340.06 195.51,339.61 195.94,340.06 196.38,341.01 196.82,341.43 197.25,341.54 197.69,341.37 198.13,341.28 198.56,341.24 199,341.01 199.44,341.34 199.87,341.57 200.31,341.81 200.74,342.65 201.18,342.58 201.62,341.93 202.05,341.93 202.49,342.05 202.93,342.16 203.36,342.46 203.8,342.8 204.23,343.37 204.67,343.24 205.11,342.57 205.54,342.84 205.98,342.83 206.41,342.04 206.85,342.12 207.29,342.9 207.72,343.19 208.16,343.23 208.6,343.24 209.03,342.94 209.47,342.85 209.9,342.86 210.34,342.66 210.78,342.37 211.21,342.03 211.65,342.64 212.09,343.54 212.52,343.59 212.96,344 213.39,344.14 213.83,343.67 214.27,343.78 214.7,343.67 215.14,343.43 215.58,343.95 216.01,344.2 216.45,343.61 216.88,343.18 217.32,343.75 217.76,344.61 218.19,344.61 218.63,343.84 219.07,343.14 219.5,343.19 219.94,343.4 220.38,343.62 220.81,344.05 221.25,344.08 221.68,344.26 222.12,344.7 222.56,344.53 222.99,344.48 223.43,344.69 223.86,344.31 224.3,343.93 224.74,344.24 225.17,344.78 225.61,344.56 226.05,344 226.48,344.36 226.92,344.98 227.35,344.68 227.79,344.33 228.23,344.65 228.66,344.36 229.1,343.94 229.54,344.6" fill="none" stroke="#e6660f" stroke-width="1.45" stroke-linejoin="round" stroke-linecap="round" />
<polyline points="37.15,261.22 37.59,264.91 38.02,268.31 38.46,271.3 38.9,274.18 39.33,276.92 39.77,279.13 40.2,280.79 40.64,282.32 41.08,283.78 41.51,285.05 41.95,286.22 42.39,287.25 42.82,288.17 43.26,289.05 43.69,289.87 44.13,290.55 44.57,291.2 45,291.88 45.44,292.47 45.88,293.06 46.31,293.8 46.75,294.74 47.18,295.77 47.62,296.87 48.06,298.06 48.49,299.2 48.93,300.29 49.37,301.41 49.8,302.49 50.24,303.61 50.67,304.73 51.11,305.76 51.55,306.8 51.98,307.78 52.42,308.55 52.86,308.96 53.29,308.98 53.73,308.98 54.16,309.01 54.6,308.89 55.04,308.81 55.47,308.75 55.91,308.59 56.34,308.44 56.78,308.23 57.22,307.92 57.65,307.56 58.09,307.29 58.53,307.18 58.96,307.2 59.4,307.21 59.84,307.16 60.27,307.21 60.71,307.34 61.14,307.46 61.58,307.7 62.02,307.98 62.45,308.19 62.89,308.41 63.33,308.49 63.76,308.47 64.2,308.36 64.63,307.91 65.07,307.23 65.51,306.64 65.94,305.98 66.38,305.26 66.81,304.64 67.25,304 67.69,303.36 68.12,302.66 68.56,301.8 69,301.07 69.43,300.34 69.87,299.5 70.31,298.83 70.74,298.22 71.18,297.53 71.61,296.89 72.05,296.28 72.49,295.66 72.92,294.97 73.36,294.28 73.8,293.7 74.23,293.16 74.67,292.68 75.1,292.28 75.54,291.87 75.98,291.31 76.41,290.75 76.85,290.38 77.28,290.07 77.72,289.8 78.16,289.59 78.59,289.49 79.03,289.54 79.47,289.65 79.9,289.82 80.34,289.94 80.78,290 81.21,290.11 81.65,290.32 82.08,290.65 82.52,291.03 82.96,291.38 83.39,291.9 83.83,292.49 84.27,292.92 84.7,293.35 85.14,293.97 85.57,294.77 86.01,295.46 86.45,296.06 86.88,296.78 87.32,297.45 87.75,298.13 88.19,298.95 88.63,299.88 89.06,300.88 89.5,302.09 89.94,303.57 90.37,305.2 90.81,306.83 91.25,308.39 91.68,309.96 92.12,311.55 92.55,313.16 92.99,314.69 93.43,316.2 93.86,317.67 94.3,319.19 94.73,320.75 95.17,322.15 95.61,323.49 96.04,324.92 96.48,326.4 96.92,327.9 97.35,329.34 97.79,330.68 98.22,331.89 98.66,333.07 99.1,334.35 99.53,335.67 99.97,336.95 100.41,338.15 100.84,339.41 101.28,340.68 101.72,341.69 102.15,342.44 102.59,342.99 103.02,343.49 103.46,344.16 103.9,344.84 104.33,345.25 104.77,345.57 105.2,345.92 105.64,346.07 106.08,346.01 106.51,345.89 106.95,345.78 107.39,345.61 107.82,345.31 108.26,344.95 108.69,344.6 109.13,344.14 109.57,343.54 110,342.92 110.44,342.24 110.88,341.44 111.31,340.56 111.75,339.66 112.19,338.77 112.62,337.89 113.06,337.08 113.49,336.13 113.93,335.06 114.37,334.09 114.8,333.07 115.24,331.9 115.67,330.92 116.11,330.03 116.55,328.87 116.98,327.61 117.42,326.54 117.86,325.48 118.29,324.37 118.73,323.34 119.16,322.26 119.6,321.08 120.04,319.91 120.47,318.7 120.91,317.54 121.35,316.4 121.78,315.26 122.22,314.2 122.66,313.02 123.09,311.78 123.53,310.66 123.96,309.59 124.4,308.56 124.84,307.49 125.27,306.33 125.71,305.18 126.14,304.04 126.58,302.85 127.02,301.61 127.45,300.43 127.89,299.34 128.33,298.22 128.76,297.16 129.2,296.26 129.63,295.22 130.07,294.02 130.51,293.03 130.94,292.24 131.38,291.48 131.82,290.79 132.25,290.03 132.69,289.22 133.12,288.46 133.56,287.7 134,287.02 134.43,286.31 134.87,285.57 135.31,285.07 135.74,284.72 136.18,284.36 136.62,284.03 137.05,283.64 137.49,283.15 137.92,282.82 138.36,282.71 138.8,282.67 139.23,282.81 139.67,283.09 140.1,283.3 140.54,283.58 140.98,284.07 141.41,284.56 141.85,285.08 142.29,285.74 142.72,286.48 143.16,287.4 143.59,288.54 144.03,289.87 144.47,291.32 144.9,292.72 145.34,294.03 145.78,295.35 146.21,296.64 146.65,297.91 147.08,299.36 147.52,300.97 147.96,302.58 148.39,304.24 148.83,305.9 149.27,307.58 149.7,309.26 150.14,310.83 150.57,312.47 151.01,314.23 151.45,316.07 151.88,317.91 152.32,319.74 152.76,321.59 153.19,323.48 153.63,325.36 154.06,327.11 154.5,328.82 154.94,330.6 155.37,332.46 155.81,334.38 156.25,336.3 156.68,338.05 157.12,339.5 157.56,340.82 157.99,342.36 158.43,344 158.86,345.36 159.3,346.6 159.74,347.87 160.17,349.07 160.61,350.29 161.05,351.54 161.48,352.84 161.92,354.21 162.35,355.52 162.79,356.72 163.23,357.93 163.66,359.17 164.1,360.19 164.53,361.04 164.97,361.81 165.41,362.43 165.84,363 166.28,363.45 166.72,363.78 167.15,364.14 167.59,364.56 168.02,364.97 168.46,365.36 168.9,365.63 169.33,365.79 169.77,365.98 170.21,366.16 170.64,366.3 171.08,366.36 171.51,366.55 171.95,366.81 172.39,366.9 172.82,367.02 173.26,367.2 173.7,367.31 174.13,367.43 174.57,367.61 175,367.73 175.44,367.76 175.88,367.73 176.31,367.71 176.75,367.78 177.19,367.91 177.62,368.1 178.06,368.2 178.5,368.14 178.93,368.12 179.37,368.13 179.8,368.16 180.24,368.3 180.68,368.51 181.11,368.63 181.55,368.58 181.99,368.6 182.42,368.71 182.86,368.77 183.29,368.88 183.73,368.87 184.17,368.77 184.6,368.82 185.04,368.92 185.47,368.99 185.91,369.08 186.35,369.09 186.78,369.09 187.22,369.2 187.66,369.31 188.09,369.4 188.53,369.57 188.96,369.76 189.4,369.71 189.84,369.46 190.27,369.45 190.71,369.63 191.15,369.69 191.58,369.72 192.02,369.75 192.45,369.75 192.89,369.88 193.33,370.07 193.76,370.08 194.2,369.92 194.64,369.83 195.07,369.89 195.51,370 195.94,370.02 196.38,370 196.82,369.94 197.25,369.79 197.69,369.74 198.13,369.87 198.56,369.99 199,369.94 199.44,369.88 199.87,369.92 200.31,369.95 200.74,370.01 201.18,370.07 201.62,369.97 202.05,369.92 202.49,370.02 202.93,370 203.36,369.98 203.8,370.07 204.23,370.11 204.67,370.13 205.11,370.13 205.54,370.12 205.98,370.09 206.41,370.02 206.85,369.97 207.29,370.03 207.72,370.04 208.16,369.88 208.6,369.89 209.03,369.99 209.47,369.94 209.9,369.89 210.34,369.92 210.78,369.92 211.21,369.85 211.65,369.81 212.09,369.81 212.52,369.76 212.96,369.72 213.39,369.7 213.83,369.64 214.27,369.71 214.7,369.77 215.14,369.69 215.58,369.63 216.01,369.62 216.45,369.5 216.88,369.38 217.32,369.43 217.76,369.49 218.19,369.45 218.63,369.38 219.07,369.43 219.5,369.52 219.94,369.49 220.38,369.33 220.81,369.3 221.25,369.41 221.68,369.34 222.12,369.16 222.56,369.13 222.99,369.22 223.43,369.16 223.86,369.04 224.3,369.06 224.74,369.07 225.17,369.07 225.61,369.04 226.05,368.91 226.48,368.87 226.92,368.89 227.35,368.76 227.79,368.62 228.23,368.58 228.66,368.57 229.1,368.59" fill="none" stroke="#111111" stroke-width="1.45" stroke-linejoin="round" stroke-linecap="round" />
<polyline points="42.73,225.6 43.17,227.82 43.61,229.95 44.04,231.96 44.48,234.2 44.92,236.01 45.35,237.58 45.79,239.1 46.22,240.57 46.66,241.85 47.1,243.06 47.53,244.58 47.97,246.31 48.41,248.1 48.84,250.2 49.28,252.25 49.71,253.83 50.15,255.35 50.59,257.24 51.02,258.78 51.46,259.74 51.9,260.86 52.33,262.44 52.77,263.96 53.2,264.83 53.64,265.46 54.08,266.46 54.51,267.34 54.95,267.84 55.39,268.33 55.82,268.38 56.26,268.09 56.69,268.55 57.13,269.39 57.57,269.66 58,269.6 58.44,269.72 58.88,269.94 59.31,270.24 59.75,270.43 60.18,270.61 60.62,271.09 61.06,271.47 61.49,271.48 61.93,271.35 62.37,271.28 62.8,271.3 63.24,271.3 63.67,271.4 64.11,271.44 64.55,271.08 64.98,270.87 65.42,271.07 65.86,271.01 66.29,270.66 66.73,270.47 67.16,270.38 67.6,270.26 68.04,270.16 68.47,269.83 68.91,269.15 69.35,268.76 69.78,268.7 70.22,268.31 70.65,267.81 71.09,267.55 71.53,267.26 71.96,267.02 72.4,266.79 72.84,266.3 73.27,265.64 73.71,265.01 74.14,264.86 74.58,264.94 75.02,264.56 75.45,263.94 75.89,263.7 76.33,263.85 76.76,264.03 77.2,264.1 77.63,263.92 78.07,263.82 78.51,263.69 78.94,263.66 79.38,264.05 79.82,264.12 80.25,263.95 80.69,263.91 81.12,264.12 81.56,264.73 82,265.01 82.43,265.01 82.87,265.27 83.31,265.78 83.74,266.15 84.18,266.52 84.61,267.26 85.05,267.76 85.49,267.93 85.92,268.66 86.36,270.12 86.8,271.85 87.23,273.43 87.67,274.88 88.1,276.24 88.54,277.31 88.98,278.41 89.41,280.02 89.85,281.83 90.29,283.51 90.72,284.91 91.16,286.37 91.59,288.16 92.03,289.86 92.47,291.65 92.9,293.52 93.34,295.07 93.78,296.46 94.21,297.87 94.65,299.49 95.08,301.67 95.52,303.62 95.96,305.01 96.39,306.65 96.83,308.7 97.27,310.42 97.7,311.55 98.14,312.87 98.57,314.48 99.01,315.93 99.45,317.2 99.88,318.52 100.32,319.75 100.76,320.75 101.19,321.76 101.63,323.02 102.06,324.04 102.5,324.85 102.94,325.91 103.37,327.03 103.81,327.85 104.25,328.58 104.68,329.33 105.12,329.65 105.55,329.92 105.99,330.72 106.43,331.62 106.86,332.04 107.3,332.17 107.74,332.41 108.17,332.49 108.61,332.29 109.04,331.93 109.48,331.61 109.92,331.36 110.35,330.98 110.79,330.76 111.23,330.31 111.66,329.57 112.1,328.87 112.53,328.23 112.97,327.85 113.41,327.24 113.84,326.28 114.28,325.43 114.72,324.33 115.15,323.1 115.59,322.25 116.02,321.5 116.46,320.52 116.9,319.32 117.33,318.25 117.77,317.22 118.21,315.98 118.64,314.78 119.08,313.57 119.51,312.26 119.95,310.88 120.39,309.69 120.82,308.74 121.26,307.65 121.7,306.27 122.13,304.84 122.57,303.66 123,302.61 123.44,301.28 123.88,300.06 124.31,299.09 124.75,297.85 125.19,296.42 125.62,295.04 126.06,293.91 126.49,292.91 126.93,291.77 127.37,290.41 127.8,288.94 128.24,287.89 128.68,287.23 129.11,285.83 129.55,284.08 129.98,283.27 130.42,282.66 130.86,281.93 131.29,281.06 131.73,279.66 132.17,278.7 132.6,277.96 133.04,276.85 133.47,276.11 133.91,275.37 134.35,274.29 134.78,273.48 135.22,272.89 135.66,272.29 136.09,271.78 136.53,270.99 136.96,269.83 137.4,269.02 137.84,268.69 138.27,268.52 138.71,268.39 139.15,268.25 139.58,267.9 140.02,267.5 140.45,267.49 140.89,267.54 141.33,267.77 141.76,267.96 142.2,267.96 142.64,268.51 143.07,269.16 143.51,269.58 143.94,270.13 144.38,270.86 144.82,271.69 145.25,272.52 145.69,273.68 146.13,274.88 146.56,275.73 147,276.96 147.43,278.42 147.87,279.57 148.31,280.65 148.74,282.08 149.18,283.82 149.62,285.4 150.05,286.94 150.49,288.62 150.92,290.4 151.36,292.2 151.8,294.15 152.23,296.51 152.67,298.69 153.11,300.44 153.54,302.31 153.98,304.21 154.41,306.13 154.85,308.13 155.29,310.09 155.72,312.23 156.16,314.3 156.6,316.21 157.03,318.28 157.47,320.45 157.9,322.63 158.34,324.87 158.78,326.95 159.21,328.79 159.65,330.73 160.09,332.75 160.52,334.4 160.96,335.8 161.39,337.57 161.83,339.59 162.27,341.34 162.7,342.96 163.14,344.56 163.58,346.07 164.01,347.51 164.45,348.83 164.88,350.11 165.32,351.18 165.76,351.97 166.19,352.61 166.63,353.28 167.07,354.05 167.5,354.64 167.94,355.3 168.37,356.18 168.81,356.68 169.25,356.93 169.68,357.45 170.12,357.89 170.56,358.03 170.99,358.46 171.43,358.77 171.86,358.87 172.3,359.35 172.74,359.72 173.17,359.87 173.61,359.93 174.05,360.1 174.48,360.45 174.92,360.63 175.35,360.82 175.79,360.94 176.23,360.85 176.66,361.02 177.1,361.39 177.54,361.61 177.97,361.65 178.41,361.69 178.84,361.69 179.28,361.88 179.72,362.53 180.15,362.72 180.59,362.54 181.03,362.56 181.46,362.5 181.9,362.38 182.33,362.27 182.77,362.15 183.21,362.08 183.64,362.1 184.08,362.2 184.52,362.31 184.95,362.39 185.39,362.61 185.82,363.01 186.26,363.3 186.7,363.23 187.13,363.22 187.57,363.41 188.01,363.31 188.44,363.12 188.88,363.01 189.31,363.1 189.75,363.3 190.19,363.51 190.62,363.67 191.06,363.39 191.5,363.36 191.93,363.56 192.37,363.37 192.8,363.29 193.24,363.52 193.68,363.64 194.11,363.42 194.55,363.3 194.99,363.55 195.42,363.66 195.86,363.38 196.29,363.21 196.73,363.3 197.17,363.46 197.6,363.68 198.04,363.69 198.48,363.63 198.91,363.41 199.35,363.16 199.78,363.51 200.22,363.84 200.66,363.89 201.09,364.02 201.53,363.91 201.97,363.84 202.4,364.07 202.84,364.26 203.27,364.29 203.71,364.24 204.15,364.08 204.58,363.82 205.02,363.91 205.46,364.36 205.89,364.37 206.33,363.89 206.76,363.8 207.2,364.11 207.64,364.28 208.07,364.41 208.51,364.33 208.95,364.12 209.38,364.42 209.82,364.88 210.25,365.12 210.69,365.13 211.13,364.68 211.56,364.25 212,364.03 212.44,364.18 212.87,364.64 213.31,364.66 213.74,364.47 214.18,364.61 214.62,364.79 215.05,364.71 215.49,364.58 215.93,364.6 216.36,364.84 216.8,365.08 217.23,365.17 217.67,365.24 218.11,365.28 218.54,365.17 218.98,364.99 219.42,364.85 219.85,364.72 220.29,364.75 220.72,365.07 221.16,365.33 221.6,365.13 222.03,365.1 222.47,365.55 222.91,365.77 223.34,365.75 223.78,365.7 224.21,365.64 224.65,365.58 225.09,365.56 225.52,365.66 225.96,365.67 226.4,365.7 226.83,365.65 227.27,365.41 227.7,365.38 228.14,365.48 228.58,365.52 229.01,365.43 229.45,365.43" fill="none" stroke="#e60a20" stroke-width="1.45" stroke-linejoin="round" stroke-linecap="round" />
</g>
<line x1="30.2" y1="225.6" x2="30.2" y2="372" stroke="#1a1a1a" stroke-width="1.25"/>
<line x1="30.2" y1="372" x2="235.6" y2="372" stroke="#1a1a1a" stroke-width="1.25"/>
<line x1="27.1" y1="372" x2="30.2" y2="372" stroke="#222" stroke-width="1.0"/>
<text x="25.2" y="374.8" font-size="7.8" text-anchor="end" fill="#333" font-family="'Liberation Sans', Arial, sans-serif" stroke="#333" stroke-width="0.3" >0</text>
<line x1="27.1" y1="323.2" x2="30.2" y2="323.2" stroke="#222" stroke-width="1.0"/>
<text x="25.2" y="326" font-size="7.8" text-anchor="end" fill="#333" font-family="'Liberation Sans', Arial, sans-serif" stroke="#333" stroke-width="0.3" >1</text>
<line x1="27.1" y1="274.4" x2="30.2" y2="274.4" stroke="#222" stroke-width="1.0"/>
<text x="25.2" y="277.2" font-size="7.8" text-anchor="end" fill="#333" font-family="'Liberation Sans', Arial, sans-serif" stroke="#333" stroke-width="0.3" >2</text>
<line x1="27.1" y1="225.6" x2="30.2" y2="225.6" stroke="#222" stroke-width="1.0"/>
<text x="25.2" y="228.4" font-size="7.8" text-anchor="end" fill="#333" font-family="'Liberation Sans', Arial, sans-serif" stroke="#333" stroke-width="0.3" >3</text>
<line x1="28.3" y1="347.6" x2="30.2" y2="347.6" stroke="#222" stroke-width="0.9"/>
<line x1="28.3" y1="298.8" x2="30.2" y2="298.8" stroke="#222" stroke-width="0.9"/>
<line x1="28.3" y1="250" x2="30.2" y2="250" stroke="#222" stroke-width="0.9"/>
<line x1="89.5" y1="372" x2="89.5" y2="374.9" stroke="#222" stroke-width="1.0"/>
<text x="89.5" y="382.4" font-size="8.0" text-anchor="middle" fill="#333" font-family="'Liberation Sans', Arial, sans-serif" stroke="#333" stroke-width="0.3" >400</text>
<line x1="159.3" y1="372" x2="159.3" y2="374.9" stroke="#222" stroke-width="1.0"/>
<text x="159.3" y="382.4" font-size="8.0" text-anchor="middle" fill="#333" font-family="'Liberation Sans', Arial, sans-serif" stroke="#333" stroke-width="0.3" >600</text>
<line x1="229.1" y1="372" x2="229.1" y2="374.9" stroke="#222" stroke-width="1.0"/>
<text x="229.1" y="382.4" font-size="8.0" text-anchor="middle" fill="#333" font-family="'Liberation Sans', Arial, sans-serif" stroke="#333" stroke-width="0.3" >800</text>
<line x1="54.6" y1="372" x2="54.6" y2="373.9" stroke="#222" stroke-width="0.9"/>
<line x1="124.4" y1="372" x2="124.4" y2="373.9" stroke="#222" stroke-width="0.9"/>
<line x1="194.2" y1="372" x2="194.2" y2="373.9" stroke="#222" stroke-width="0.9"/>
<text x="132.9" y="391.6" font-size="7.6" text-anchor="middle" fill="#333" font-family="'Liberation Sans', Arial, sans-serif" stroke="#333" stroke-width="0.3" textLength="58.2" lengthAdjust="spacingAndGlyphs">wavelength / nm</text>
<text x="12" y="295.2" font-size="7.6" text-anchor="middle" fill="#333" font-family="'Liberation Sans', Arial, sans-serif" stroke="#333" stroke-width="0.3" transform="rotate(-90 12.0 295.2)" textLength="62" lengthAdjust="spacingAndGlyphs">absorbance / a.u.</text>
<text x="62.9" y="236.1" font-size="7.8" text-anchor="start" fill="#333" font-family="'Liberation Sans', Arial, sans-serif" stroke="#333" stroke-width="0.3" textLength="121.6" lengthAdjust="spacingAndGlyphs">Transition from MC-sol to MC-insol</text>
<text x="62.9" y="244.6" font-size="7.8" fill="#333" stroke="#333" stroke-width="0.3" font-family="'Liberation Sans', Arial, sans-serif" textLength="92.6" lengthAdjust="spacingAndGlyphs">for P(NIPAAm<tspan font-size="4.3" dy="2.2">617</tspan><tspan dy="-2.2">-</tspan><tspan font-style="italic">co</tspan><tspan>-SPA</tspan><tspan font-size="4.3" dy="2.2">7</tspan><tspan dy="-2.2">)</tspan></text>
<line x1="167.3" y1="246.5" x2="186" y2="246.5" stroke="#111111" stroke-width="1.6"/>
<text x="188.2" y="249.4" font-size="8.0" text-anchor="start" fill="#222" font-family="'Liberation Sans', Arial, sans-serif" stroke="#222" stroke-width="0.3" textLength="19.7" lengthAdjust="spacingAndGlyphs">19 °C</text>
<line x1="167.3" y1="256.4" x2="186" y2="256.4" stroke="#e60a20" stroke-width="1.6"/>
<text x="188.2" y="259.3" font-size="8.0" text-anchor="start" fill="#222" font-family="'Liberation Sans', Arial, sans-serif" stroke="#222" stroke-width="0.3" textLength="19.7" lengthAdjust="spacingAndGlyphs">24 °C</text>
<line x1="167.3" y1="266" x2="186" y2="266" stroke="#e6660f" stroke-width="1.6"/>
<text x="188.2" y="268.9" font-size="8.0" text-anchor="start" fill="#222" font-family="'Liberation Sans', Arial, sans-serif" stroke="#222" stroke-width="0.3" textLength="19.7" lengthAdjust="spacingAndGlyphs">29 °C</text>
<line x1="167.3" y1="275.8" x2="186" y2="275.8" stroke="#fbc00a" stroke-width="1.6"/>
<text x="188.2" y="278.7" font-size="8.0" text-anchor="start" fill="#222" font-family="'Liberation Sans', Arial, sans-serif" stroke="#222" stroke-width="0.3" textLength="19.7" lengthAdjust="spacingAndGlyphs">34 °C</text>
<line x1="167.3" y1="285.4" x2="186" y2="285.4" stroke="#65a41d" stroke-width="1.6"/>
<text x="188.2" y="288.3" font-size="8.0" text-anchor="start" fill="#222" font-family="'Liberation Sans', Arial, sans-serif" stroke="#222" stroke-width="0.3" textLength="19.7" lengthAdjust="spacingAndGlyphs">39 °C</text>
<text x="126" y="416.35" font-size="15.2" text-anchor="middle" fill="#111" font-family="'Liberation Serif', 'Times New Roman', serif" font-weight="bold">(c)</text>
<polyline points="293.1,243.4 300.79,243.66 308.48,243.92 316.17,244.17 323.86,244.43 331.55,244.69 339.24,244.95 346.93,245.2 354.62,245.59 362.31,246.36 370,247.14 377.69,248.56 385.38,250.75 393.07,253.71 400.76,256.16 408.45,257.71 416.14,259.38 423.83,260.54 431.52,261.83 439.21,263.12 446.9,264.15" fill="none" stroke="#8cc21e" stroke-width="1.0" stroke-linejoin="round" stroke-linecap="round" />
<polygon points="293.1,241 290.82,244.96 295.38,244.96" fill="#8cc21e"/>
<polygon points="300.79,241.26 298.51,245.22 303.07,245.22" fill="#8cc21e"/>
<polygon points="308.48,241.52 306.2,245.48 310.76,245.48" fill="#8cc21e"/>
<polygon points="316.17,241.77 313.89,245.73 318.45,245.73" fill="#8cc21e"/>
<polygon points="323.86,242.03 321.58,245.99 326.14,245.99" fill="#8cc21e"/>
<polygon points="331.55,242.29 329.27,246.25 333.83,246.25" fill="#8cc21e"/>
<polygon points="339.24,242.55 336.96,246.51 341.52,246.51" fill="#8cc21e"/>
<polygon points="346.93,242.8 344.65,246.76 349.21,246.76" fill="#8cc21e"/>
<polygon points="354.62,243.19 352.34,247.15 356.9,247.15" fill="#8cc21e"/>
<polygon points="362.31,243.96 360.03,247.92 364.59,247.92" fill="#8cc21e"/>
<polygon points="370,244.74 367.72,248.7 372.28,248.7" fill="#8cc21e"/>
<polygon points="377.69,246.16 375.41,250.12 379.97,250.12" fill="#8cc21e"/>
<polygon points="385.38,248.35 383.1,252.31 387.66,252.31" fill="#8cc21e"/>
<polygon points="393.07,251.31 390.79,255.27 395.35,255.27" fill="#8cc21e"/>
<polygon points="400.76,253.76 398.48,257.72 403.04,257.72" fill="#8cc21e"/>
<polygon points="408.45,255.31 406.17,259.27 410.73,259.27" fill="#8cc21e"/>
<polygon points="416.14,256.98 413.86,260.94 418.42,260.94" fill="#8cc21e"/>
<polygon points="423.83,258.14 421.55,262.1 426.11,262.1" fill="#8cc21e"/>
<polygon points="431.52,259.43 429.24,263.39 433.8,263.39" fill="#8cc21e"/>
<polygon points="439.21,260.72 436.93,264.68 441.49,264.68" fill="#8cc21e"/>
<polygon points="446.9,261.75 444.62,265.71 449.18,265.71" fill="#8cc21e"/>
<polyline points="293.1,243.92 300.79,244.17 308.48,244.69 316.17,246.36 323.86,249.97 331.55,264.54 339.24,306.69 346.93,322.54 354.62,340.85 362.31,340.85 370,326.28 377.69,310.3 385.38,310.94 393.07,311.97" fill="none" stroke="#1a1a1a" stroke-width="1.0" stroke-linejoin="round" stroke-linecap="round" />
<rect x="291.53" y="242.34" width="3.15" height="3.15" fill="#1a1a1a"/>
<rect x="299.22" y="242.6" width="3.15" height="3.15" fill="#1a1a1a"/>
<rect x="306.91" y="243.11" width="3.15" height="3.15" fill="#1a1a1a"/>
<rect x="314.6" y="244.79" width="3.15" height="3.15" fill="#1a1a1a"/>
<rect x="322.29" y="248.4" width="3.15" height="3.15" fill="#1a1a1a"/>
<rect x="329.98" y="262.96" width="3.15" height="3.15" fill="#1a1a1a"/>
<rect x="337.67" y="305.11" width="3.15" height="3.15" fill="#1a1a1a"/>
<rect x="345.36" y="320.97" width="3.15" height="3.15" fill="#1a1a1a"/>
<rect x="353.05" y="339.27" width="3.15" height="3.15" fill="#1a1a1a"/>
<rect x="360.74" y="339.27" width="3.15" height="3.15" fill="#1a1a1a"/>
<rect x="368.43" y="324.71" width="3.15" height="3.15" fill="#1a1a1a"/>
<rect x="376.12" y="308.72" width="3.15" height="3.15" fill="#1a1a1a"/>
<rect x="383.81" y="309.37" width="3.15" height="3.15" fill="#1a1a1a"/>
<rect x="391.5" y="310.4" width="3.15" height="3.15" fill="#1a1a1a"/>
<polyline points="293.1,245.33 300.79,245.33 308.48,245.33 316.17,245.33 323.86,245.59 331.55,245.98 339.24,246.75 346.93,248.04 354.62,250.75 362.31,257.32 370,270.21 377.69,296.25 385.38,311.33 393.07,323.19 400.76,328.6 408.45,333.11 416.14,334.15 423.83,333.89 431.52,331.95 439.21,330.02 446.9,328.6 454.59,327.06 462.28,325.38 469.97,323.45 477.66,321.13 485.35,319.06" fill="none" stroke="#e8102c" stroke-width="1.0" stroke-linejoin="round" stroke-linecap="round" />
<circle cx="293.1" cy="245.33" r="1.78" fill="#e8102c"/>
<circle cx="300.79" cy="245.33" r="1.78" fill="#e8102c"/>
<circle cx="308.48" cy="245.33" r="1.78" fill="#e8102c"/>
<circle cx="316.17" cy="245.33" r="1.78" fill="#e8102c"/>
<circle cx="323.86" cy="245.59" r="1.78" fill="#e8102c"/>
<circle cx="331.55" cy="245.98" r="1.78" fill="#e8102c"/>
<circle cx="339.24" cy="246.75" r="1.78" fill="#e8102c"/>
<circle cx="346.93" cy="248.04" r="1.78" fill="#e8102c"/>
<circle cx="354.62" cy="250.75" r="1.78" fill="#e8102c"/>
<circle cx="362.31" cy="257.32" r="1.78" fill="#e8102c"/>
<circle cx="370" cy="270.21" r="1.78" fill="#e8102c"/>
<circle cx="377.69" cy="296.25" r="1.78" fill="#e8102c"/>
<circle cx="385.38" cy="311.33" r="1.78" fill="#e8102c"/>
<circle cx="393.07" cy="323.19" r="1.78" fill="#e8102c"/>
<circle cx="400.76" cy="328.6" r="1.78" fill="#e8102c"/>
<circle cx="408.45" cy="333.11" r="1.78" fill="#e8102c"/>
<circle cx="416.14" cy="334.15" r="1.78" fill="#e8102c"/>
<circle cx="423.83" cy="333.89" r="1.78" fill="#e8102c"/>
<circle cx="431.52" cy="331.95" r="1.78" fill="#e8102c"/>
<circle cx="439.21" cy="330.02" r="1.78" fill="#e8102c"/>
<circle cx="446.9" cy="328.6" r="1.78" fill="#e8102c"/>
<circle cx="454.59" cy="327.06" r="1.78" fill="#e8102c"/>
<circle cx="462.28" cy="325.38" r="1.78" fill="#e8102c"/>
<circle cx="469.97" cy="323.45" r="1.78" fill="#e8102c"/>
<circle cx="477.66" cy="321.13" r="1.78" fill="#e8102c"/>
<circle cx="485.35" cy="319.06" r="1.78" fill="#e8102c"/>
<polyline points="293.1,255.65 300.79,244.17 308.48,244.17 316.17,244.17 323.86,244.17 331.55,244.43 339.24,244.69 346.93,244.95 354.62,246.88 362.31,253.97 370,270.47 377.69,306.82 385.38,346.78 393.07,351.16 400.76,354.25 408.45,354.51 416.14,352.45 423.83,350 431.52,346.78 439.21,344.59 446.9,342.27 454.59,339.69 462.28,337.24 469.97,334.53 477.66,331.7 485.35,328.86" fill="none" stroke="#f9bd14" stroke-width="1.0" stroke-linejoin="round" stroke-linecap="round" />
<polygon points="293.1,258.05 290.82,254.09 295.38,254.09" fill="#f9bd14"/>
<polygon points="300.79,246.57 298.51,242.61 303.07,242.61" fill="#f9bd14"/>
<polygon points="308.48,246.57 306.2,242.61 310.76,242.61" fill="#f9bd14"/>
<polygon points="316.17,246.57 313.89,242.61 318.45,242.61" fill="#f9bd14"/>
<polygon points="323.86,246.57 321.58,242.61 326.14,242.61" fill="#f9bd14"/>
<polygon points="331.55,246.83 329.27,242.87 333.83,242.87" fill="#f9bd14"/>
<polygon points="339.24,247.09 336.96,243.13 341.52,243.13" fill="#f9bd14"/>
<polygon points="346.93,247.35 344.65,243.39 349.21,243.39" fill="#f9bd14"/>
<polygon points="354.62,249.28 352.34,245.32 356.9,245.32" fill="#f9bd14"/>
<polygon points="362.31,256.37 360.03,252.41 364.59,252.41" fill="#f9bd14"/>
<polygon points="370,272.87 367.72,268.91 372.28,268.91" fill="#f9bd14"/>
<polygon points="377.69,309.22 375.41,305.26 379.97,305.26" fill="#f9bd14"/>
<polygon points="385.38,349.18 383.1,345.22 387.66,345.22" fill="#f9bd14"/>
<polygon points="393.07,353.56 390.79,349.6 395.35,349.6" fill="#f9bd14"/>
<polygon points="400.76,356.65 398.48,352.69 403.04,352.69" fill="#f9bd14"/>
<polygon points="408.45,356.91 406.17,352.95 410.73,352.95" fill="#f9bd14"/>
<polygon points="416.14,354.85 413.86,350.89 418.42,350.89" fill="#f9bd14"/>
<polygon points="423.83,352.4 421.55,348.44 426.11,348.44" fill="#f9bd14"/>
<polygon points="431.52,349.18 429.24,345.22 433.8,345.22" fill="#f9bd14"/>
<polygon points="439.21,346.99 436.93,343.03 441.49,343.03" fill="#f9bd14"/>
<polygon points="446.9,344.67 444.62,340.71 449.18,340.71" fill="#f9bd14"/>
<polygon points="454.59,342.09 452.31,338.13 456.87,338.13" fill="#f9bd14"/>
<polygon points="462.28,339.64 460,335.68 464.56,335.68" fill="#f9bd14"/>
<polygon points="469.97,336.93 467.69,332.97 472.25,332.97" fill="#f9bd14"/>
<polygon points="477.66,334.1 475.38,330.14 479.94,330.14" fill="#f9bd14"/>
<polygon points="485.35,331.26 483.07,327.3 487.63,327.3" fill="#f9bd14"/>
<line x1="293.2" y1="230.4" x2="293.2" y2="372.3" stroke="#1a1a1a" stroke-width="1.25"/>
<line x1="293.2" y1="372.3" x2="485.35" y2="372.3" stroke="#1a1a1a" stroke-width="1.25"/>
<line x1="290.1" y1="372.3" x2="293.2" y2="372.3" stroke="#222" stroke-width="1.0"/>
<text x="289" y="375.1" font-size="7.7" text-anchor="end" fill="#333" font-family="'Liberation Sans', Arial, sans-serif" stroke="#333" stroke-width="0.3" >0</text>
<line x1="290.1" y1="346.52" x2="293.2" y2="346.52" stroke="#222" stroke-width="1.0"/>
<text x="289" y="349.32" font-size="7.7" text-anchor="end" fill="#333" font-family="'Liberation Sans', Arial, sans-serif" stroke="#333" stroke-width="0.3" >20</text>
<line x1="290.1" y1="320.74" x2="293.2" y2="320.74" stroke="#222" stroke-width="1.0"/>
<text x="289" y="323.54" font-size="7.7" text-anchor="end" fill="#333" font-family="'Liberation Sans', Arial, sans-serif" stroke="#333" stroke-width="0.3" >40</text>
<line x1="290.1" y1="294.96" x2="293.2" y2="294.96" stroke="#222" stroke-width="1.0"/>
<text x="289" y="297.76" font-size="7.7" text-anchor="end" fill="#333" font-family="'Liberation Sans', Arial, sans-serif" stroke="#333" stroke-width="0.3" >60</text>
<line x1="290.1" y1="269.18" x2="293.2" y2="269.18" stroke="#222" stroke-width="1.0"/>
<text x="289" y="271.98" font-size="7.7" text-anchor="end" fill="#333" font-family="'Liberation Sans', Arial, sans-serif" stroke="#333" stroke-width="0.3" >80</text>
<line x1="290.1" y1="243.4" x2="293.2" y2="243.4" stroke="#222" stroke-width="1.0"/>
<text x="289" y="246.2" font-size="7.7" text-anchor="end" fill="#333" font-family="'Liberation Sans', Arial, sans-serif" stroke="#333" stroke-width="0.3" >100</text>
<line x1="291.3" y1="359.41" x2="293.2" y2="359.41" stroke="#222" stroke-width="0.9"/>
<line x1="291.3" y1="333.63" x2="293.2" y2="333.63" stroke="#222" stroke-width="0.9"/>
<line x1="291.3" y1="307.85" x2="293.2" y2="307.85" stroke="#222" stroke-width="0.9"/>
<line x1="291.3" y1="282.07" x2="293.2" y2="282.07" stroke="#222" stroke-width="0.9"/>
<line x1="291.3" y1="256.29" x2="293.2" y2="256.29" stroke="#222" stroke-width="0.9"/>
<line x1="291.3" y1="230.51" x2="293.2" y2="230.51" stroke="#222" stroke-width="0.9"/>
<line x1="293.1" y1="372.3" x2="293.1" y2="375.2" stroke="#222" stroke-width="1.0"/>
<text x="293.1" y="382.9" font-size="7.8" text-anchor="middle" fill="#333" font-family="'Liberation Sans', Arial, sans-serif" stroke="#333" stroke-width="0.3" >10</text>
<line x1="331.55" y1="372.3" x2="331.55" y2="375.2" stroke="#222" stroke-width="1.0"/>
<text x="331.55" y="382.9" font-size="7.8" text-anchor="middle" fill="#333" font-family="'Liberation Sans', Arial, sans-serif" stroke="#333" stroke-width="0.3" >15</text>
<line x1="370" y1="372.3" x2="370" y2="375.2" stroke="#222" stroke-width="1.0"/>
<text x="370" y="382.9" font-size="7.8" text-anchor="middle" fill="#333" font-family="'Liberation Sans', Arial, sans-serif" stroke="#333" stroke-width="0.3" >20</text>
<line x1="408.45" y1="372.3" x2="408.45" y2="375.2" stroke="#222" stroke-width="1.0"/>
<text x="408.45" y="382.9" font-size="7.8" text-anchor="middle" fill="#333" font-family="'Liberation Sans', Arial, sans-serif" stroke="#333" stroke-width="0.3" >25</text>
<line x1="446.9" y1="372.3" x2="446.9" y2="375.2" stroke="#222" stroke-width="1.0"/>
<text x="446.9" y="382.9" font-size="7.8" text-anchor="middle" fill="#333" font-family="'Liberation Sans', Arial, sans-serif" stroke="#333" stroke-width="0.3" >30</text>
<line x1="485.35" y1="372.3" x2="485.35" y2="375.2" stroke="#222" stroke-width="1.0"/>
<text x="485.35" y="382.9" font-size="7.8" text-anchor="middle" fill="#333" font-family="'Liberation Sans', Arial, sans-serif" stroke="#333" stroke-width="0.3" >35</text>
<line x1="312.33" y1="372.3" x2="312.33" y2="374.2" stroke="#222" stroke-width="0.9"/>
<line x1="350.78" y1="372.3" x2="350.78" y2="374.2" stroke="#222" stroke-width="0.9"/>
<line x1="389.23" y1="372.3" x2="389.23" y2="374.2" stroke="#222" stroke-width="0.9"/>
<line x1="427.68" y1="372.3" x2="427.68" y2="374.2" stroke="#222" stroke-width="0.9"/>
<line x1="466.12" y1="372.3" x2="466.12" y2="374.2" stroke="#222" stroke-width="0.9"/>
<text x="388.8" y="395.8" font-size="7.7" text-anchor="middle" fill="#333" font-family="'Liberation Sans', Arial, sans-serif" stroke="#333" stroke-width="0.3" textLength="55.2" lengthAdjust="spacingAndGlyphs">temperature / °C</text>
<text x="269" y="303.9" font-size="7.7" text-anchor="middle" fill="#333" font-family="'Liberation Sans', Arial, sans-serif" stroke="#333" stroke-width="0.3" transform="rotate(-90 269.0 303.9)" textLength="54.3" lengthAdjust="spacingAndGlyphs">transmittance / %</text>
<text x="379" y="225.8" font-size="7.8" fill="#333" stroke="#333" stroke-width="0.3" font-family="'Liberation Sans', Arial, sans-serif" textLength="136.7" lengthAdjust="spacingAndGlyphs">P(NIPAAm<tspan font-size="4.3" dy="2.2">617</tspan><tspan dy="-2.2">-co-SPA</tspan><tspan font-size="4.3" dy="2.2">7</tspan><tspan dy="-2.2">) transition from</tspan></text>
<text x="379" y="238.2" font-size="7.8" text-anchor="start" fill="#333" font-family="'Liberation Sans', Arial, sans-serif" stroke="#333" stroke-width="0.3" textLength="64.5" lengthAdjust="spacingAndGlyphs">SP-sol to SP-insol</text>
<line x1="383" y1="273.7" x2="398.3" y2="273.7" stroke="#1a1a1a" stroke-width="1.0"/>
<rect x="389.5" y="272.2" width="3" height="3" fill="#1a1a1a"/>
<text x="399.7" y="275.7" font-size="6.7" text-anchor="start" fill="#333" font-family="'Liberation Sans', Arial, sans-serif" stroke="#333" stroke-width="0.15" textLength="99" lengthAdjust="spacingAndGlyphs">pH 8 buffer irradiation with 540 nm</text>
<line x1="383" y1="281.57" x2="398.3" y2="281.57" stroke="#e8102c" stroke-width="1.0"/>
<circle cx="391" cy="281.57" r="1.7" fill="#e8102c"/>
<text x="399.7" y="283.57" font-size="6.7" text-anchor="start" fill="#333" font-family="'Liberation Sans', Arial, sans-serif" stroke="#333" stroke-width="0.15" textLength="99" lengthAdjust="spacingAndGlyphs">pH 8 buffer irradiation with 340 nm</text>
<line x1="383" y1="289.44" x2="398.3" y2="289.44" stroke="#8cc21e" stroke-width="1.0"/>
<polygon points="391,287.44 389.1,290.74 392.9,290.74" fill="#8cc21e"/>
<text x="399.7" y="291.44" font-size="6.7" text-anchor="start" fill="#333" font-family="'Liberation Sans', Arial, sans-serif" stroke="#333" stroke-width="0.15" textLength="91" lengthAdjust="spacingAndGlyphs">DI-water irradiation with 540 nm</text>
<line x1="383" y1="297.31" x2="398.3" y2="297.31" stroke="#f9bd14" stroke-width="1.0"/>
<polygon points="391,299.31 389.1,296.01 392.9,296.01" fill="#f9bd14"/>
<text x="399.7" y="299.31" font-size="6.7" text-anchor="start" fill="#333" font-family="'Liberation Sans', Arial, sans-serif" stroke="#333" stroke-width="0.15" textLength="127.1" lengthAdjust="spacingAndGlyphs">50 mM NaCl solution irradiation with 540 nm</text>
<text x="394" y="416.35" font-size="15.2" text-anchor="middle" fill="#111" font-family="'Liberation Serif', 'Times New Roman', serif" font-weight="bold">(d)</text>
</svg>
</body></html>
